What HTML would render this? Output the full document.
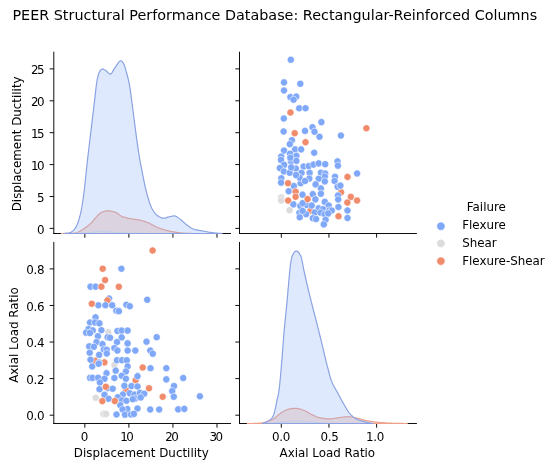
<!DOCTYPE html>
<html><head><meta charset="utf-8"><title>PEER pairplot</title><style>html,body{margin:0;padding:0;background:#fff;width:550px;height:468px;overflow:hidden}svg{display:block}svg text{font-family:"DejaVu Sans","Liberation Sans",sans-serif}</style></head><body>
<svg width="550px" height="468px" viewBox="0 0 462.18 393.28" version="1.1">
 
 <defs>
  <style type="text/css">*{stroke-linejoin: round; stroke-linecap: butt}</style>
 </defs>
 <g id="figure_1">
  <g id="patch_1">
   <path d="M 0 393.28 
L 462.18 393.28 
L 462.18 0 
L 0 0 
z
" style="fill: #ffffff"/>
  </g>
  <g id="axes_1">
   <g id="patch_2">
    <path d="M 45.21 196.22 
L 193.7 196.22 
L 193.7 43.87 
L 45.21 43.87 
L 45.21 196.22 
z
" style="fill: none"/>
   </g>
   <g id="matplotlib.axis_1">
    <g id="xtick_1">
     <g id="line2d_1">
      <defs>
       <path id="m9a016e3dbc" d="M 0 0 
L 0 3.5 
" style="stroke: #000000; stroke-width: 0.8"/>
      </defs>
      <g>
       <use href="#m9a016e3dbc" x="71.29" y="196.22" style="stroke: #000000; stroke-width: 0.8"/>
      </g>
     </g>
    </g>
    <g id="xtick_2">
     <g id="line2d_2">
      <g>
       <use href="#m9a016e3dbc" x="108.3" y="196.22" style="stroke: #000000; stroke-width: 0.8"/>
      </g>
     </g>
    </g>
    <g id="xtick_3">
     <g id="line2d_3">
      <g>
       <use href="#m9a016e3dbc" x="145.32" y="196.22" style="stroke: #000000; stroke-width: 0.8"/>
      </g>
     </g>
    </g>
    <g id="xtick_4">
     <g id="line2d_4">
      <g>
       <use href="#m9a016e3dbc" x="182.34" y="196.22" style="stroke: #000000; stroke-width: 0.8"/>
      </g>
     </g>
    </g>
   </g>
   <g id="matplotlib.axis_2">
    <g id="ytick_1">
     <g id="line2d_5">
      <defs>
       <path id="m037271180b" d="M 0 0 
L -3.5 0 
" style="stroke: #000000; stroke-width: 0.8"/>
      </defs>
      <g>
       <use href="#m037271180b" x="45.21" y="191.93" style="stroke: #000000; stroke-width: 0.8"/>
      </g>
     </g>
     <g id="text_1">
      <text style="font-size: 10px; font-family: 'DejaVu Sans', 'Liberation Sans', sans-serif; text-anchor: end" x="37.54" y="196.32" transform="rotate(-0 37.54 196.32)">0</text>
     </g>
    </g>
    <g id="ytick_2">
     <g id="line2d_6">
      <g>
       <use href="#m037271180b" x="45.21" y="165.13" style="stroke: #000000; stroke-width: 0.8"/>
      </g>
     </g>
     <g id="text_2">
      <text style="font-size: 10px; font-family: 'DejaVu Sans', 'Liberation Sans', sans-serif; text-anchor: end" x="37.54" y="169.51" transform="rotate(-0 37.54 169.51)">5</text>
     </g>
    </g>
    <g id="ytick_3">
     <g id="line2d_7">
      <g>
       <use href="#m037271180b" x="45.21" y="138.32" style="stroke: #000000; stroke-width: 0.8"/>
      </g>
     </g>
     <g id="text_3">
      <text style="font-size: 10px; font-family: 'DejaVu Sans', 'Liberation Sans', sans-serif; text-anchor: end" x="37.54" y="142.71" transform="rotate(-0 37.54 142.71)" textLength="11.46" lengthAdjust="spacing">10</text>
     </g>
    </g>
    <g id="ytick_4">
     <g id="line2d_8">
      <g>
       <use href="#m037271180b" x="45.21" y="111.51" style="stroke: #000000; stroke-width: 0.8"/>
      </g>
     </g>
     <g id="text_4">
      <text style="font-size: 10px; font-family: 'DejaVu Sans', 'Liberation Sans', sans-serif; text-anchor: end" x="37.54" y="115.90" transform="rotate(-0 37.54 115.90)" textLength="11.46" lengthAdjust="spacing">15</text>
     </g>
    </g>
    <g id="ytick_5">
     <g id="line2d_9">
      <g>
       <use href="#m037271180b" x="45.21" y="84.71" style="stroke: #000000; stroke-width: 0.8"/>
      </g>
     </g>
     <g id="text_5">
      <text style="font-size: 10px; font-family: 'DejaVu Sans', 'Liberation Sans', sans-serif; text-anchor: end" x="37.54" y="89.09" transform="rotate(-0 37.54 89.09)" textLength="11.46" lengthAdjust="spacing">20</text>
     </g>
    </g>
    <g id="ytick_6">
     <g id="line2d_10">
      <g>
       <use href="#m037271180b" x="45.21" y="57.9" style="stroke: #000000; stroke-width: 0.8"/>
      </g>
     </g>
     <g id="text_6">
      <text style="font-size: 10px; font-family: 'DejaVu Sans', 'Liberation Sans', sans-serif; text-anchor: end" x="37.54" y="62.29" transform="rotate(-0 37.54 62.29)" textLength="11.46" lengthAdjust="spacing">25</text>
     </g>
    </g>
    <g id="text_7">
     <text style="font-size: 10px; font-family: 'DejaVu Sans', 'Liberation Sans', sans-serif; text-anchor: middle" x="17.64" y="120.88" transform="rotate(-90 17.64 120.88)">Displacement Ductility</text>
    </g>
   </g>
   <g id="patch_3">
    <path d="M 45.21 196.22 
L 45.21 43.87 
" style="fill: none; stroke: #000000; stroke-width: 0.8; stroke-linejoin: miter; stroke-linecap: square"/>
   </g>
   <g id="patch_4">
    <path d="M 45.21 196.22 
L 193.7 196.22 
" style="fill: none; stroke: #000000; stroke-width: 0.8; stroke-linejoin: miter; stroke-linecap: square"/>
   </g>
  </g>
  <g id="axes_2">
   <g id="patch_5">
    <path d="M 201.26 196.22 
L 349.92 196.22 
L 349.92 43.87 
L 201.26 43.87 
L 201.26 196.22 
z
" style="fill: none"/>
   </g>
   <g id="matplotlib.axis_3">
    <g id="xtick_5">
     <g id="line2d_11">
      <g>
       <use href="#m9a016e3dbc" x="236.39" y="196.22" style="stroke: #000000; stroke-width: 0.8"/>
      </g>
     </g>
    </g>
    <g id="xtick_6">
     <g id="line2d_12">
      <g>
       <use href="#m9a016e3dbc" x="276.43" y="196.22" style="stroke: #000000; stroke-width: 0.8"/>
      </g>
     </g>
    </g>
    <g id="xtick_7">
     <g id="line2d_13">
      <g>
       <use href="#m9a016e3dbc" x="316.47" y="196.22" style="stroke: #000000; stroke-width: 0.8"/>
      </g>
     </g>
    </g>
   </g>
   <g id="matplotlib.axis_4">
    <g id="ytick_7">
     <g id="line2d_14">
      <g>
       <use href="#m037271180b" x="201.26" y="191.93" style="stroke: #000000; stroke-width: 0.8"/>
      </g>
     </g>
    </g>
    <g id="ytick_8">
     <g id="line2d_15">
      <g>
       <use href="#m037271180b" x="201.26" y="165.13" style="stroke: #000000; stroke-width: 0.8"/>
      </g>
     </g>
    </g>
    <g id="ytick_9">
     <g id="line2d_16">
      <g>
       <use href="#m037271180b" x="201.26" y="138.32" style="stroke: #000000; stroke-width: 0.8"/>
      </g>
     </g>
    </g>
    <g id="ytick_10">
     <g id="line2d_17">
      <g>
       <use href="#m037271180b" x="201.26" y="111.51" style="stroke: #000000; stroke-width: 0.8"/>
      </g>
     </g>
    </g>
    <g id="ytick_11">
     <g id="line2d_18">
      <g>
       <use href="#m037271180b" x="201.26" y="84.71" style="stroke: #000000; stroke-width: 0.8"/>
      </g>
     </g>
    </g>
    <g id="ytick_12">
     <g id="line2d_19">
      <g>
       <use href="#m037271180b" x="201.26" y="57.9" style="stroke: #000000; stroke-width: 0.8"/>
      </g>
     </g>
    </g>
   </g>
   <g id="PathCollection_1">
    <defs>
     <path id="C0_0_1733bd7d9b" d="M 0 3 
C 0.8 3 1.56 2.68 2.12 2.12 
C 2.68 1.56 3 0.8 3 -0 
C 3 -0.8 2.68 -1.56 2.12 -2.12 
C 1.56 -2.68 0.8 -3 0 -3 
C -0.8 -3 -1.56 -2.68 -2.12 -2.12 
C -2.68 -1.56 -3 -0.8 -3 0 
C -3 0.8 -2.68 1.56 -2.12 2.12 
C -1.56 2.68 -0.8 3 0 3 
z
"/>
    </defs>
    <g clip-path="url(#p71ec16864b)">
     <use href="#C0_0_1733bd7d9b" x="286.64" y="161.6" style="fill: #f08c6c; stroke: #ffffff; stroke-width: 0.48"/>
    </g>
    <g clip-path="url(#p71ec16864b)">
     <use href="#C0_0_1733bd7d9b" x="260.92" y="177.06" style="fill: #f08c6c; stroke: #ffffff; stroke-width: 0.48"/>
    </g>
    <g clip-path="url(#p71ec16864b)">
     <use href="#C0_0_1733bd7d9b" x="244.37" y="50.25" style="fill: #80a8f8; stroke: #ffffff; stroke-width: 0.48"/>
    </g>
    <g clip-path="url(#p71ec16864b)">
     <use href="#C0_0_1733bd7d9b" x="238.66" y="69.24" style="fill: #80a8f8; stroke: #ffffff; stroke-width: 0.48"/>
    </g>
    <g clip-path="url(#p71ec16864b)">
     <use href="#C0_0_1733bd7d9b" x="252.35" y="70.42" style="fill: #80a8f8; stroke: #ffffff; stroke-width: 0.48"/>
    </g>
    <g clip-path="url(#p71ec16864b)">
     <use href="#C0_0_1733bd7d9b" x="238.66" y="76.05" style="fill: #80a8f8; stroke: #ffffff; stroke-width: 0.48"/>
    </g>
    <g clip-path="url(#p71ec16864b)">
     <use href="#C0_0_1733bd7d9b" x="244.03" y="81.6" style="fill: #80a8f8; stroke: #ffffff; stroke-width: 0.48"/>
    </g>
    <g clip-path="url(#p71ec16864b)">
     <use href="#C0_0_1733bd7d9b" x="248.91" y="81.18" style="fill: #80a8f8; stroke: #ffffff; stroke-width: 0.48"/>
    </g>
    <g clip-path="url(#p71ec16864b)">
     <use href="#C0_0_1733bd7d9b" x="246.72" y="83.78" style="fill: #80a8f8; stroke: #ffffff; stroke-width: 0.48"/>
    </g>
    <g clip-path="url(#p71ec16864b)">
     <use href="#C0_0_1733bd7d9b" x="251.43" y="91.01" style="fill: #80a8f8; stroke: #ffffff; stroke-width: 0.48"/>
    </g>
    <g clip-path="url(#p71ec16864b)">
     <use href="#C0_0_1733bd7d9b" x="256.72" y="91.01" style="fill: #80a8f8; stroke: #ffffff; stroke-width: 0.48"/>
    </g>
    <g clip-path="url(#p71ec16864b)">
     <use href="#C0_0_1733bd7d9b" x="238.49" y="99.58" style="fill: #80a8f8; stroke: #ffffff; stroke-width: 0.48"/>
    </g>
    <g clip-path="url(#p71ec16864b)">
     <use href="#C0_0_1733bd7d9b" x="270.08" y="102.61" style="fill: #80a8f8; stroke: #ffffff; stroke-width: 0.48"/>
    </g>
    <g clip-path="url(#p71ec16864b)">
     <use href="#C0_0_1733bd7d9b" x="238.32" y="110.5" style="fill: #80a8f8; stroke: #ffffff; stroke-width: 0.48"/>
    </g>
    <g clip-path="url(#p71ec16864b)">
     <use href="#C0_0_1733bd7d9b" x="256.3" y="110" style="fill: #80a8f8; stroke: #ffffff; stroke-width: 0.48"/>
    </g>
    <g clip-path="url(#p71ec16864b)">
     <use href="#C0_0_1733bd7d9b" x="262.61" y="106.89" style="fill: #80a8f8; stroke: #ffffff; stroke-width: 0.48"/>
    </g>
    <g clip-path="url(#p71ec16864b)">
     <use href="#C0_0_1733bd7d9b" x="264.29" y="110.67" style="fill: #80a8f8; stroke: #ffffff; stroke-width: 0.48"/>
    </g>
    <g clip-path="url(#p71ec16864b)">
     <use href="#C0_0_1733bd7d9b" x="268.49" y="114.96" style="fill: #80a8f8; stroke: #ffffff; stroke-width: 0.48"/>
    </g>
    <g clip-path="url(#p71ec16864b)">
     <use href="#C0_0_1733bd7d9b" x="286.47" y="113.95" style="fill: #80a8f8; stroke: #ffffff; stroke-width: 0.48"/>
    </g>
    <g clip-path="url(#p71ec16864b)">
     <use href="#C0_0_1733bd7d9b" x="245.29" y="117.82" style="fill: #80a8f8; stroke: #ffffff; stroke-width: 0.48"/>
    </g>
    <g clip-path="url(#p71ec16864b)">
     <use href="#C0_0_1733bd7d9b" x="243.53" y="121.18" style="fill: #80a8f8; stroke: #ffffff; stroke-width: 0.48"/>
    </g>
    <g clip-path="url(#p71ec16864b)">
     <use href="#C0_0_1733bd7d9b" x="238.66" y="126.55" style="fill: #80a8f8; stroke: #ffffff; stroke-width: 0.48"/>
    </g>
    <g clip-path="url(#p71ec16864b)">
     <use href="#C0_0_1733bd7d9b" x="247.98" y="125.55" style="fill: #80a8f8; stroke: #ffffff; stroke-width: 0.48"/>
    </g>
    <g clip-path="url(#p71ec16864b)">
     <use href="#C0_0_1733bd7d9b" x="253.03" y="125.55" style="fill: #80a8f8; stroke: #ffffff; stroke-width: 0.48"/>
    </g>
    <g clip-path="url(#p71ec16864b)">
     <use href="#C0_0_1733bd7d9b" x="243.7" y="129.16" style="fill: #80a8f8; stroke: #ffffff; stroke-width: 0.48"/>
    </g>
    <g clip-path="url(#p71ec16864b)">
     <use href="#C0_0_1733bd7d9b" x="249.08" y="130.92" style="fill: #80a8f8; stroke: #ffffff; stroke-width: 0.48"/>
    </g>
    <g clip-path="url(#p71ec16864b)">
     <use href="#C0_0_1733bd7d9b" x="264.03" y="128.4" style="fill: #80a8f8; stroke: #ffffff; stroke-width: 0.48"/>
    </g>
    <g clip-path="url(#p71ec16864b)">
     <use href="#C0_0_1733bd7d9b" x="236.3" y="131.6" style="fill: #80a8f8; stroke: #ffffff; stroke-width: 0.48"/>
    </g>
    <g clip-path="url(#p71ec16864b)">
     <use href="#C0_0_1733bd7d9b" x="236.13" y="134.45" style="fill: #80a8f8; stroke: #ffffff; stroke-width: 0.48"/>
    </g>
    <g clip-path="url(#p71ec16864b)">
     <use href="#C0_0_1733bd7d9b" x="244.54" y="135.71" style="fill: #80a8f8; stroke: #ffffff; stroke-width: 0.48"/>
    </g>
    <g clip-path="url(#p71ec16864b)">
     <use href="#C0_0_1733bd7d9b" x="249.08" y="135.21" style="fill: #80a8f8; stroke: #ffffff; stroke-width: 0.48"/>
    </g>
    <g clip-path="url(#p71ec16864b)">
     <use href="#C0_0_1733bd7d9b" x="238.74" y="138.57" style="fill: #80a8f8; stroke: #ffffff; stroke-width: 0.48"/>
    </g>
    <g clip-path="url(#p71ec16864b)">
     <use href="#C0_0_1733bd7d9b" x="255.13" y="139.92" style="fill: #80a8f8; stroke: #ffffff; stroke-width: 0.48"/>
    </g>
    <g clip-path="url(#p71ec16864b)">
     <use href="#C0_0_1733bd7d9b" x="259.5" y="139.58" style="fill: #80a8f8; stroke: #ffffff; stroke-width: 0.48"/>
    </g>
    <g clip-path="url(#p71ec16864b)">
     <use href="#C0_0_1733bd7d9b" x="263.45" y="138.32" style="fill: #80a8f8; stroke: #ffffff; stroke-width: 0.48"/>
    </g>
    <g clip-path="url(#p71ec16864b)">
     <use href="#C0_0_1733bd7d9b" x="267.82" y="137.31" style="fill: #80a8f8; stroke: #ffffff; stroke-width: 0.48"/>
    </g>
    <g clip-path="url(#p71ec16864b)">
     <use href="#C0_0_1733bd7d9b" x="273.28" y="137.98" style="fill: #80a8f8; stroke: #ffffff; stroke-width: 0.48"/>
    </g>
    <g clip-path="url(#p71ec16864b)">
     <use href="#C0_0_1733bd7d9b" x="283.61" y="135.63" style="fill: #80a8f8; stroke: #ffffff; stroke-width: 0.48"/>
    </g>
    <g clip-path="url(#p71ec16864b)">
     <use href="#C0_0_1733bd7d9b" x="283.95" y="139.24" style="fill: #80a8f8; stroke: #ffffff; stroke-width: 0.48"/>
    </g>
    <g clip-path="url(#p71ec16864b)">
     <use href="#C0_0_1733bd7d9b" x="235.13" y="141.26" style="fill: #80a8f8; stroke: #ffffff; stroke-width: 0.48"/>
    </g>
    <g clip-path="url(#p71ec16864b)">
     <use href="#C0_0_1733bd7d9b" x="248.66" y="141.68" style="fill: #80a8f8; stroke: #ffffff; stroke-width: 0.48"/>
    </g>
    <g clip-path="url(#p71ec16864b)">
     <use href="#C0_0_1733bd7d9b" x="238.57" y="144.12" style="fill: #80a8f8; stroke: #ffffff; stroke-width: 0.48"/>
    </g>
    <g clip-path="url(#p71ec16864b)">
     <use href="#C0_0_1733bd7d9b" x="243.45" y="145.21" style="fill: #80a8f8; stroke: #ffffff; stroke-width: 0.48"/>
    </g>
    <g clip-path="url(#p71ec16864b)">
     <use href="#C0_0_1733bd7d9b" x="253.36" y="145.29" style="fill: #80a8f8; stroke: #ffffff; stroke-width: 0.48"/>
    </g>
    <g clip-path="url(#p71ec16864b)">
     <use href="#C0_0_1733bd7d9b" x="260.17" y="145.29" style="fill: #80a8f8; stroke: #ffffff; stroke-width: 0.48"/>
    </g>
    <g clip-path="url(#p71ec16864b)">
     <use href="#C0_0_1733bd7d9b" x="269.66" y="145.21" style="fill: #80a8f8; stroke: #ffffff; stroke-width: 0.48"/>
    </g>
    <g clip-path="url(#p71ec16864b)">
     <use href="#C0_0_1733bd7d9b" x="273.28" y="145.8" style="fill: #80a8f8; stroke: #ffffff; stroke-width: 0.48"/>
    </g>
    <g clip-path="url(#p71ec16864b)">
     <use href="#C0_0_1733bd7d9b" x="272.94" y="148.49" style="fill: #80a8f8; stroke: #ffffff; stroke-width: 0.48"/>
    </g>
    <g clip-path="url(#p71ec16864b)">
     <use href="#C0_0_1733bd7d9b" x="281.51" y="148.57" style="fill: #80a8f8; stroke: #ffffff; stroke-width: 0.48"/>
    </g>
    <g clip-path="url(#p71ec16864b)">
     <use href="#C0_0_1733bd7d9b" x="267.82" y="150.25" style="fill: #80a8f8; stroke: #ffffff; stroke-width: 0.48"/>
    </g>
    <g clip-path="url(#p71ec16864b)">
     <use href="#C0_0_1733bd7d9b" x="259.92" y="150.08" style="fill: #80a8f8; stroke: #ffffff; stroke-width: 0.48"/>
    </g>
    <g clip-path="url(#p71ec16864b)">
     <use href="#C0_0_1733bd7d9b" x="300.08" y="145.8" style="fill: #80a8f8; stroke: #ffffff; stroke-width: 0.48"/>
    </g>
    <g clip-path="url(#p71ec16864b)">
     <use href="#C0_0_1733bd7d9b" x="236.39" y="149.83" style="fill: #80a8f8; stroke: #ffffff; stroke-width: 0.48"/>
    </g>
    <g clip-path="url(#p71ec16864b)">
     <use href="#C0_0_1733bd7d9b" x="236.22" y="153.45" style="fill: #80a8f8; stroke: #ffffff; stroke-width: 0.48"/>
    </g>
    <g clip-path="url(#p71ec16864b)">
     <use href="#C0_0_1733bd7d9b" x="246.97" y="156.39" style="fill: #80a8f8; stroke: #ffffff; stroke-width: 0.48"/>
    </g>
    <g clip-path="url(#p71ec16864b)">
     <use href="#C0_0_1733bd7d9b" x="252.61" y="154.03" style="fill: #80a8f8; stroke: #ffffff; stroke-width: 0.48"/>
    </g>
    <g clip-path="url(#p71ec16864b)">
     <use href="#C0_0_1733bd7d9b" x="251.68" y="149.24" style="fill: #80a8f8; stroke: #ffffff; stroke-width: 0.48"/>
    </g>
    <g clip-path="url(#p71ec16864b)">
     <use href="#C0_0_1733bd7d9b" x="256.3" y="152.1" style="fill: #80a8f8; stroke: #ffffff; stroke-width: 0.48"/>
    </g>
    <g clip-path="url(#p71ec16864b)">
     <use href="#C0_0_1733bd7d9b" x="272.94" y="152.44" style="fill: #80a8f8; stroke: #ffffff; stroke-width: 0.48"/>
    </g>
    <g clip-path="url(#p71ec16864b)">
     <use href="#C0_0_1733bd7d9b" x="281.18" y="152.1" style="fill: #80a8f8; stroke: #ffffff; stroke-width: 0.48"/>
    </g>
    <g clip-path="url(#p71ec16864b)">
     <use href="#C0_0_1733bd7d9b" x="265.21" y="154.96" style="fill: #80a8f8; stroke: #ffffff; stroke-width: 0.48"/>
    </g>
    <g clip-path="url(#p71ec16864b)">
     <use href="#C0_0_1733bd7d9b" x="269.66" y="158.32" style="fill: #80a8f8; stroke: #ffffff; stroke-width: 0.48"/>
    </g>
    <g clip-path="url(#p71ec16864b)">
     <use href="#C0_0_1733bd7d9b" x="283.7" y="156.89" style="fill: #80a8f8; stroke: #ffffff; stroke-width: 0.48"/>
    </g>
    <g clip-path="url(#p71ec16864b)">
     <use href="#C0_0_1733bd7d9b" x="286.05" y="155.97" style="fill: #80a8f8; stroke: #ffffff; stroke-width: 0.48"/>
    </g>
    <g clip-path="url(#p71ec16864b)">
     <use href="#C0_0_1733bd7d9b" x="242.61" y="160.67" style="fill: #80a8f8; stroke: #ffffff; stroke-width: 0.48"/>
    </g>
    <g clip-path="url(#p71ec16864b)">
     <use href="#C0_0_1733bd7d9b" x="254.2" y="163.61" style="fill: #80a8f8; stroke: #ffffff; stroke-width: 0.48"/>
    </g>
    <g clip-path="url(#p71ec16864b)">
     <use href="#C0_0_1733bd7d9b" x="262.86" y="163.19" style="fill: #80a8f8; stroke: #ffffff; stroke-width: 0.48"/>
    </g>
    <g clip-path="url(#p71ec16864b)">
     <use href="#C0_0_1733bd7d9b" x="269.66" y="162.86" style="fill: #80a8f8; stroke: #ffffff; stroke-width: 0.48"/>
    </g>
    <g clip-path="url(#p71ec16864b)">
     <use href="#C0_0_1733bd7d9b" x="284.03" y="164.29" style="fill: #80a8f8; stroke: #ffffff; stroke-width: 0.48"/>
    </g>
    <g clip-path="url(#p71ec16864b)">
     <use href="#C0_0_1733bd7d9b" x="284.2" y="167.65" style="fill: #80a8f8; stroke: #ffffff; stroke-width: 0.48"/>
    </g>
    <g clip-path="url(#p71ec16864b)">
     <use href="#C0_0_1733bd7d9b" x="265.04" y="167.56" style="fill: #80a8f8; stroke: #ffffff; stroke-width: 0.48"/>
    </g>
    <g clip-path="url(#p71ec16864b)">
     <use href="#C0_0_1733bd7d9b" x="284.37" y="173.95" style="fill: #80a8f8; stroke: #ffffff; stroke-width: 0.48"/>
    </g>
    <g clip-path="url(#p71ec16864b)">
     <use href="#C0_0_1733bd7d9b" x="246.55" y="171.76" style="fill: #80a8f8; stroke: #ffffff; stroke-width: 0.48"/>
    </g>
    <g clip-path="url(#p71ec16864b)">
     <use href="#C0_0_1733bd7d9b" x="252.35" y="173.11" style="fill: #80a8f8; stroke: #ffffff; stroke-width: 0.48"/>
    </g>
    <g clip-path="url(#p71ec16864b)">
     <use href="#C0_0_1733bd7d9b" x="257.82" y="172.27" style="fill: #80a8f8; stroke: #ffffff; stroke-width: 0.48"/>
    </g>
    <g clip-path="url(#p71ec16864b)">
     <use href="#C0_0_1733bd7d9b" x="261.93" y="172.69" style="fill: #80a8f8; stroke: #ffffff; stroke-width: 0.48"/>
    </g>
    <g clip-path="url(#p71ec16864b)">
     <use href="#C0_0_1733bd7d9b" x="254.29" y="170.76" style="fill: #80a8f8; stroke: #ffffff; stroke-width: 0.48"/>
    </g>
    <g clip-path="url(#p71ec16864b)">
     <use href="#C0_0_1733bd7d9b" x="272.94" y="169.66" style="fill: #80a8f8; stroke: #ffffff; stroke-width: 0.48"/>
    </g>
    <g clip-path="url(#p71ec16864b)">
     <use href="#C0_0_1733bd7d9b" x="276.22" y="172.69" style="fill: #80a8f8; stroke: #ffffff; stroke-width: 0.48"/>
    </g>
    <g clip-path="url(#p71ec16864b)">
     <use href="#C0_0_1733bd7d9b" x="267.82" y="175.04" style="fill: #80a8f8; stroke: #ffffff; stroke-width: 0.48"/>
    </g>
    <g clip-path="url(#p71ec16864b)">
     <use href="#C0_0_1733bd7d9b" x="271.51" y="175.8" style="fill: #80a8f8; stroke: #ffffff; stroke-width: 0.48"/>
    </g>
    <g clip-path="url(#p71ec16864b)">
     <use href="#C0_0_1733bd7d9b" x="276.64" y="176.89" style="fill: #80a8f8; stroke: #ffffff; stroke-width: 0.48"/>
    </g>
    <g clip-path="url(#p71ec16864b)">
     <use href="#C0_0_1733bd7d9b" x="278.82" y="176.89" style="fill: #80a8f8; stroke: #ffffff; stroke-width: 0.48"/>
    </g>
    <g clip-path="url(#p71ec16864b)">
     <use href="#C0_0_1733bd7d9b" x="292.02" y="176.89" style="fill: #80a8f8; stroke: #ffffff; stroke-width: 0.48"/>
    </g>
    <g clip-path="url(#p71ec16864b)">
     <use href="#C0_0_1733bd7d9b" x="251.6" y="178.82" style="fill: #80a8f8; stroke: #ffffff; stroke-width: 0.48"/>
    </g>
    <g clip-path="url(#p71ec16864b)">
     <use href="#C0_0_1733bd7d9b" x="257.23" y="180" style="fill: #80a8f8; stroke: #ffffff; stroke-width: 0.48"/>
    </g>
    <g clip-path="url(#p71ec16864b)">
     <use href="#C0_0_1733bd7d9b" x="254.29" y="177.23" style="fill: #80a8f8; stroke: #ffffff; stroke-width: 0.48"/>
    </g>
    <g clip-path="url(#p71ec16864b)">
     <use href="#C0_0_1733bd7d9b" x="264.54" y="178.66" style="fill: #80a8f8; stroke: #ffffff; stroke-width: 0.48"/>
    </g>
    <g clip-path="url(#p71ec16864b)">
     <use href="#C0_0_1733bd7d9b" x="269.33" y="178.66" style="fill: #80a8f8; stroke: #ffffff; stroke-width: 0.48"/>
    </g>
    <g clip-path="url(#p71ec16864b)">
     <use href="#C0_0_1733bd7d9b" x="272.86" y="180.08" style="fill: #80a8f8; stroke: #ffffff; stroke-width: 0.48"/>
    </g>
    <g clip-path="url(#p71ec16864b)">
     <use href="#C0_0_1733bd7d9b" x="275.8" y="179.41" style="fill: #80a8f8; stroke: #ffffff; stroke-width: 0.48"/>
    </g>
    <g clip-path="url(#p71ec16864b)">
     <use href="#C0_0_1733bd7d9b" x="251.85" y="182.61" style="fill: #80a8f8; stroke: #ffffff; stroke-width: 0.48"/>
    </g>
    <g clip-path="url(#p71ec16864b)">
     <use href="#C0_0_1733bd7d9b" x="262.86" y="183.36" style="fill: #80a8f8; stroke: #ffffff; stroke-width: 0.48"/>
    </g>
    <g clip-path="url(#p71ec16864b)">
     <use href="#C0_0_1733bd7d9b" x="265.63" y="184.12" style="fill: #80a8f8; stroke: #ffffff; stroke-width: 0.48"/>
    </g>
    <g clip-path="url(#p71ec16864b)">
     <use href="#C0_0_1733bd7d9b" x="273.61" y="184.71" style="fill: #80a8f8; stroke: #ffffff; stroke-width: 0.48"/>
    </g>
    <g clip-path="url(#p71ec16864b)">
     <use href="#C0_0_1733bd7d9b" x="292.02" y="183.19" style="fill: #80a8f8; stroke: #ffffff; stroke-width: 0.48"/>
    </g>
    <g clip-path="url(#p71ec16864b)">
     <use href="#C0_0_1733bd7d9b" x="272.1" y="188.57" style="fill: #80a8f8; stroke: #ffffff; stroke-width: 0.48"/>
    </g>
    <g clip-path="url(#p71ec16864b)">
     <use href="#C0_0_1733bd7d9b" x="244.71" y="140.67" style="fill: #80a8f8; stroke: #ffffff; stroke-width: 0.48"/>
    </g>
    <g clip-path="url(#p71ec16864b)">
     <use href="#C0_0_1733bd7d9b" x="243.95" y="132.61" style="fill: #80a8f8; stroke: #ffffff; stroke-width: 0.48"/>
    </g>
    <g clip-path="url(#p71ec16864b)">
     <use href="#C0_0_1733bd7d9b" x="248.74" y="147.14" style="fill: #80a8f8; stroke: #ffffff; stroke-width: 0.48"/>
    </g>
    <g clip-path="url(#p71ec16864b)">
     <use href="#C0_0_1733bd7d9b" x="236.3" y="165.88" style="fill: #dddcdc; stroke: #ffffff; stroke-width: 0.48"/>
    </g>
    <g clip-path="url(#p71ec16864b)">
     <use href="#C0_0_1733bd7d9b" x="236.3" y="168.49" style="fill: #dddcdc; stroke: #ffffff; stroke-width: 0.48"/>
    </g>
    <g clip-path="url(#p71ec16864b)">
     <use href="#C0_0_1733bd7d9b" x="243.28" y="176.64" style="fill: #dddcdc; stroke: #ffffff; stroke-width: 0.48"/>
    </g>
    <g clip-path="url(#p71ec16864b)">
     <use href="#C0_0_1733bd7d9b" x="244.08" y="94.54" style="fill: #f08c6c; stroke: #ffffff; stroke-width: 0.48"/>
    </g>
    <g clip-path="url(#p71ec16864b)">
     <use href="#C0_0_1733bd7d9b" x="247.65" y="111.93" style="fill: #f08c6c; stroke: #ffffff; stroke-width: 0.48"/>
    </g>
    <g clip-path="url(#p71ec16864b)">
     <use href="#C0_0_1733bd7d9b" x="256.72" y="119.5" style="fill: #f08c6c; stroke: #ffffff; stroke-width: 0.48"/>
    </g>
    <g clip-path="url(#p71ec16864b)">
     <use href="#C0_0_1733bd7d9b" x="307.9" y="107.82" style="fill: #f08c6c; stroke: #ffffff; stroke-width: 0.48"/>
    </g>
    <g clip-path="url(#p71ec16864b)">
     <use href="#C0_0_1733bd7d9b" x="242.02" y="153.95" style="fill: #f08c6c; stroke: #ffffff; stroke-width: 0.48"/>
    </g>
    <g clip-path="url(#p71ec16864b)">
     <use href="#C0_0_1733bd7d9b" x="248.4" y="161.09" style="fill: #f08c6c; stroke: #ffffff; stroke-width: 0.48"/>
    </g>
    <g clip-path="url(#p71ec16864b)">
     <use href="#C0_0_1733bd7d9b" x="248.4" y="165.38" style="fill: #f08c6c; stroke: #ffffff; stroke-width: 0.48"/>
    </g>
    <g clip-path="url(#p71ec16864b)">
     <use href="#C0_0_1733bd7d9b" x="258.49" y="167.31" style="fill: #f08c6c; stroke: #ffffff; stroke-width: 0.48"/>
    </g>
    <g clip-path="url(#p71ec16864b)">
     <use href="#C0_0_1733bd7d9b" x="242.1" y="168.57" style="fill: #f08c6c; stroke: #ffffff; stroke-width: 0.48"/>
    </g>
    <g clip-path="url(#p71ec16864b)">
     <use href="#C0_0_1733bd7d9b" x="292.02" y="148.66" style="fill: #f08c6c; stroke: #ffffff; stroke-width: 0.48"/>
    </g>
    <g clip-path="url(#p71ec16864b)">
     <use href="#C0_0_1733bd7d9b" x="294.79" y="165.46" style="fill: #f08c6c; stroke: #ffffff; stroke-width: 0.48"/>
    </g>
    <g clip-path="url(#p71ec16864b)">
     <use href="#C0_0_1733bd7d9b" x="300.08" y="168.49" style="fill: #f08c6c; stroke: #ffffff; stroke-width: 0.48"/>
    </g>
    <g clip-path="url(#p71ec16864b)">
     <use href="#C0_0_1733bd7d9b" x="291.93" y="170.25" style="fill: #f08c6c; stroke: #ffffff; stroke-width: 0.48"/>
    </g>
    <g clip-path="url(#p71ec16864b)">
     <use href="#C0_0_1733bd7d9b" x="284.45" y="181.76" style="fill: #f08c6c; stroke: #ffffff; stroke-width: 0.48"/>
    </g>
   </g>
   <g id="patch_6">
    <path d="M 201.26 196.22 
L 201.26 43.87 
" style="fill: none; stroke: #000000; stroke-width: 0.8; stroke-linejoin: miter; stroke-linecap: square"/>
   </g>
   <g id="patch_7">
    <path d="M 201.26 196.22 
L 349.92 196.22 
" style="fill: none; stroke: #000000; stroke-width: 0.8; stroke-linejoin: miter; stroke-linecap: square"/>
   </g>
  </g>
  <g id="axes_3">
   <g id="patch_8">
    <path d="M 45.21 355.88 
L 193.7 355.88 
L 193.7 203.7 
L 45.21 203.7 
L 45.21 355.88 
z
" style="fill: none"/>
   </g>
   <g id="matplotlib.axis_5">
    <g id="xtick_8">
     <g id="line2d_20">
      <g>
       <use href="#m9a016e3dbc" x="71.29" y="355.88" style="stroke: #000000; stroke-width: 0.8"/>
      </g>
     </g>
     <g id="text_8">
      <text style="font-size: 10px; font-family: 'DejaVu Sans', 'Liberation Sans', sans-serif; text-anchor: middle" x="70.95" y="370.23" transform="rotate(-0 70.95 370.23)">0</text>
     </g>
    </g>
    <g id="xtick_9">
     <g id="line2d_21">
      <g>
       <use href="#m9a016e3dbc" x="108.3" y="355.88" style="stroke: #000000; stroke-width: 0.8"/>
      </g>
     </g>
     <g id="text_9">
      <text style="font-size: 10px; font-family: 'DejaVu Sans', 'Liberation Sans', sans-serif; text-anchor: middle" x="106.79" y="370.23" transform="rotate(-0 106.79 370.23)" textLength="11.46" lengthAdjust="spacing">10</text>
     </g>
    </g>
    <g id="xtick_10">
     <g id="line2d_22">
      <g>
       <use href="#m9a016e3dbc" x="145.32" y="355.88" style="stroke: #000000; stroke-width: 0.8"/>
      </g>
     </g>
     <g id="text_10">
      <text style="font-size: 10px; font-family: 'DejaVu Sans', 'Liberation Sans', sans-serif; text-anchor: middle" x="144.56" y="370.23" transform="rotate(-0 144.56 370.23)" textLength="11.46" lengthAdjust="spacing">20</text>
     </g>
    </g>
    <g id="xtick_11">
     <g id="line2d_23">
      <g>
       <use href="#m9a016e3dbc" x="182.34" y="355.88" style="stroke: #000000; stroke-width: 0.8"/>
      </g>
     </g>
     <g id="text_11">
      <text style="font-size: 10px; font-family: 'DejaVu Sans', 'Liberation Sans', sans-serif; text-anchor: middle" x="181.75" y="370.23" transform="rotate(-0 181.75 370.23)" textLength="11.46" lengthAdjust="spacing">30</text>
     </g>
    </g>
    <g id="text_12">
     <text style="font-size: 10px; font-family: 'DejaVu Sans', 'Liberation Sans', sans-serif; text-anchor: middle" x="118.70" y="384.41" transform="rotate(-0 118.70 384.41)">Displacement Ductility</text>
    </g>
   </g>
   <g id="matplotlib.axis_6">
    <g id="ytick_13">
     <g id="line2d_24">
      <g>
       <use href="#m037271180b" x="45.21" y="348.91" style="stroke: #000000; stroke-width: 0.8"/>
      </g>
     </g>
     <g id="text_13">
      <text style="font-size: 10px; font-family: 'DejaVu Sans', 'Liberation Sans', sans-serif; text-anchor: end" x="37.54" y="353.30" transform="rotate(-0 37.54 353.30)" textLength="15.40" lengthAdjust="spacing">0.0</text>
     </g>
    </g>
    <g id="ytick_14">
     <g id="line2d_25">
      <g>
       <use href="#m037271180b" x="45.21" y="318.17" style="stroke: #000000; stroke-width: 0.8"/>
      </g>
     </g>
     <g id="text_14">
      <text style="font-size: 10px; font-family: 'DejaVu Sans', 'Liberation Sans', sans-serif; text-anchor: end" x="37.54" y="322.56" transform="rotate(-0 37.54 322.56)" textLength="15.40" lengthAdjust="spacing">0.2</text>
     </g>
    </g>
    <g id="ytick_15">
     <g id="line2d_26">
      <g>
       <use href="#m037271180b" x="45.21" y="287.43" style="stroke: #000000; stroke-width: 0.8"/>
      </g>
     </g>
     <g id="text_15">
      <text style="font-size: 10px; font-family: 'DejaVu Sans', 'Liberation Sans', sans-serif; text-anchor: end" x="37.54" y="291.82" transform="rotate(-0 37.54 291.82)" textLength="15.40" lengthAdjust="spacing">0.4</text>
     </g>
    </g>
    <g id="ytick_16">
     <g id="line2d_27">
      <g>
       <use href="#m037271180b" x="45.21" y="256.69" style="stroke: #000000; stroke-width: 0.8"/>
      </g>
     </g>
     <g id="text_16">
      <text style="font-size: 10px; font-family: 'DejaVu Sans', 'Liberation Sans', sans-serif; text-anchor: end" x="37.54" y="261.08" transform="rotate(-0 37.54 261.08)" textLength="15.40" lengthAdjust="spacing">0.6</text>
     </g>
    </g>
    <g id="ytick_17">
     <g id="line2d_28">
      <g>
       <use href="#m037271180b" x="45.21" y="225.95" style="stroke: #000000; stroke-width: 0.8"/>
      </g>
     </g>
     <g id="text_17">
      <text style="font-size: 10px; font-family: 'DejaVu Sans', 'Liberation Sans', sans-serif; text-anchor: end" x="37.54" y="230.34" transform="rotate(-0 37.54 230.34)" textLength="15.40" lengthAdjust="spacing">0.8</text>
     </g>
    </g>
    <g id="text_18">
     <text style="font-size: 10px; font-family: 'DejaVu Sans', 'Liberation Sans', sans-serif; text-anchor: middle" x="15.05" y="281.55" transform="rotate(-90 15.05 281.55)">Axial Load Ratio</text>
    </g>
   </g>
   <g id="PathCollection_2">
    <defs>
     <path id="C1_0_c9fdfc9d97" d="M 0 3 
C 0.8 3 1.56 2.68 2.12 2.12 
C 2.68 1.56 3 0.8 3 -0 
C 3 -0.8 2.68 -1.56 2.12 -2.12 
C 1.56 -2.68 0.8 -3 0 -3 
C -0.8 -3 -1.56 -2.68 -2.12 -2.12 
C -2.68 -1.56 -3 -0.8 -3 0 
C -3 0.8 -2.68 1.56 -2.12 2.12 
C -1.56 2.68 -0.8 3 0 3 
z
"/>
    </defs>
    <g clip-path="url(#p73319958ad)">
     <use href="#C1_0_c9fdfc9d97" x="80" y="303.11" style="fill: #f08c6c; stroke: #ffffff; stroke-width: 0.48"/>
    </g>
    <g clip-path="url(#p73319958ad)">
     <use href="#C1_0_c9fdfc9d97" x="87.73" y="304.54" style="fill: #f08c6c; stroke: #ffffff; stroke-width: 0.48"/>
    </g>
    <g clip-path="url(#p73319958ad)">
     <use href="#C1_0_c9fdfc9d97" x="113.95" y="319.58" style="fill: #f08c6c; stroke: #ffffff; stroke-width: 0.48"/>
    </g>
    <g clip-path="url(#p73319958ad)">
     <use href="#C1_0_c9fdfc9d97" x="105.8" y="327.73" style="fill: #f08c6c; stroke: #ffffff; stroke-width: 0.48"/>
    </g>
    <g clip-path="url(#p73319958ad)">
     <use href="#C1_0_c9fdfc9d97" x="91.01" y="279.16" style="fill: #dddcdc; stroke: #ffffff; stroke-width: 0.48"/>
    </g>
    <g clip-path="url(#p73319958ad)">
     <use href="#C1_0_c9fdfc9d97" x="96.13" y="306.81" style="fill: #dddcdc; stroke: #ffffff; stroke-width: 0.48"/>
    </g>
    <g clip-path="url(#p73319958ad)">
     <use href="#C1_0_c9fdfc9d97" x="91.68" y="250.84" style="fill: #80a8f8; stroke: #ffffff; stroke-width: 0.48"/>
    </g>
    <g clip-path="url(#p73319958ad)">
     <use href="#C1_0_c9fdfc9d97" x="90.25" y="252.44" style="fill: #f08c6c; stroke: #ffffff; stroke-width: 0.48"/>
    </g>
    <g clip-path="url(#p73319958ad)">
     <use href="#C1_0_c9fdfc9d97" x="102.02" y="225.8" style="fill: #80a8f8; stroke: #ffffff; stroke-width: 0.48"/>
    </g>
    <g clip-path="url(#p73319958ad)">
     <use href="#C1_0_c9fdfc9d97" x="76.05" y="240.92" style="fill: #80a8f8; stroke: #ffffff; stroke-width: 0.48"/>
    </g>
    <g clip-path="url(#p73319958ad)">
     <use href="#C1_0_c9fdfc9d97" x="80.34" y="240.92" style="fill: #80a8f8; stroke: #ffffff; stroke-width: 0.48"/>
    </g>
    <g clip-path="url(#p73319958ad)">
     <use href="#C1_0_c9fdfc9d97" x="123.7" y="251.93" style="fill: #80a8f8; stroke: #ffffff; stroke-width: 0.48"/>
    </g>
    <g clip-path="url(#p73319958ad)">
     <use href="#C1_0_c9fdfc9d97" x="82.69" y="256.55" style="fill: #80a8f8; stroke: #ffffff; stroke-width: 0.48"/>
    </g>
    <g clip-path="url(#p73319958ad)">
     <use href="#C1_0_c9fdfc9d97" x="88.57" y="256.55" style="fill: #80a8f8; stroke: #ffffff; stroke-width: 0.48"/>
    </g>
    <g clip-path="url(#p73319958ad)">
     <use href="#C1_0_c9fdfc9d97" x="94.29" y="256.55" style="fill: #80a8f8; stroke: #ffffff; stroke-width: 0.48"/>
    </g>
    <g clip-path="url(#p73319958ad)">
     <use href="#C1_0_c9fdfc9d97" x="97.73" y="261.09" style="fill: #80a8f8; stroke: #ffffff; stroke-width: 0.48"/>
    </g>
    <g clip-path="url(#p73319958ad)">
     <use href="#C1_0_c9fdfc9d97" x="99.92" y="261.51" style="fill: #80a8f8; stroke: #ffffff; stroke-width: 0.48"/>
    </g>
    <g clip-path="url(#p73319958ad)">
     <use href="#C1_0_c9fdfc9d97" x="106.22" y="256.13" style="fill: #80a8f8; stroke: #ffffff; stroke-width: 0.48"/>
    </g>
    <g clip-path="url(#p73319958ad)">
     <use href="#C1_0_c9fdfc9d97" x="109.08" y="257.31" style="fill: #80a8f8; stroke: #ffffff; stroke-width: 0.48"/>
    </g>
    <g clip-path="url(#p73319958ad)">
     <use href="#C1_0_c9fdfc9d97" x="80.25" y="266.72" style="fill: #80a8f8; stroke: #ffffff; stroke-width: 0.48"/>
    </g>
    <g clip-path="url(#p73319958ad)">
     <use href="#C1_0_c9fdfc9d97" x="75.63" y="271.01" style="fill: #80a8f8; stroke: #ffffff; stroke-width: 0.48"/>
    </g>
    <g clip-path="url(#p73319958ad)">
     <use href="#C1_0_c9fdfc9d97" x="79.83" y="271.01" style="fill: #80a8f8; stroke: #ffffff; stroke-width: 0.48"/>
    </g>
    <g clip-path="url(#p73319958ad)">
     <use href="#C1_0_c9fdfc9d97" x="83.53" y="271.76" style="fill: #80a8f8; stroke: #ffffff; stroke-width: 0.48"/>
    </g>
    <g clip-path="url(#p73319958ad)">
     <use href="#C1_0_c9fdfc9d97" x="74.37" y="276.47" style="fill: #80a8f8; stroke: #ffffff; stroke-width: 0.48"/>
    </g>
    <g clip-path="url(#p73319958ad)">
     <use href="#C1_0_c9fdfc9d97" x="77.98" y="277.65" style="fill: #80a8f8; stroke: #ffffff; stroke-width: 0.48"/>
    </g>
    <g clip-path="url(#p73319958ad)">
     <use href="#C1_0_c9fdfc9d97" x="72.35" y="279.58" style="fill: #80a8f8; stroke: #ffffff; stroke-width: 0.48"/>
    </g>
    <g clip-path="url(#p73319958ad)">
     <use href="#C1_0_c9fdfc9d97" x="75.63" y="279.83" style="fill: #80a8f8; stroke: #ffffff; stroke-width: 0.48"/>
    </g>
    <g clip-path="url(#p73319958ad)">
     <use href="#C1_0_c9fdfc9d97" x="85.21" y="277.48" style="fill: #80a8f8; stroke: #ffffff; stroke-width: 0.48"/>
    </g>
    <g clip-path="url(#p73319958ad)">
     <use href="#C1_0_c9fdfc9d97" x="82.27" y="282.52" style="fill: #80a8f8; stroke: #ffffff; stroke-width: 0.48"/>
    </g>
    <g clip-path="url(#p73319958ad)">
     <use href="#C1_0_c9fdfc9d97" x="90.42" y="283.45" style="fill: #80a8f8; stroke: #ffffff; stroke-width: 0.48"/>
    </g>
    <g clip-path="url(#p73319958ad)">
     <use href="#C1_0_c9fdfc9d97" x="92.52" y="283.87" style="fill: #80a8f8; stroke: #ffffff; stroke-width: 0.48"/>
    </g>
    <g clip-path="url(#p73319958ad)">
     <use href="#C1_0_c9fdfc9d97" x="98.66" y="278.15" style="fill: #80a8f8; stroke: #ffffff; stroke-width: 0.48"/>
    </g>
    <g clip-path="url(#p73319958ad)">
     <use href="#C1_0_c9fdfc9d97" x="102.27" y="277.82" style="fill: #80a8f8; stroke: #ffffff; stroke-width: 0.48"/>
    </g>
    <g clip-path="url(#p73319958ad)">
     <use href="#C1_0_c9fdfc9d97" x="107.23" y="277.82" style="fill: #80a8f8; stroke: #ffffff; stroke-width: 0.48"/>
    </g>
    <g clip-path="url(#p73319958ad)">
     <use href="#C1_0_c9fdfc9d97" x="102.27" y="283.53" style="fill: #80a8f8; stroke: #ffffff; stroke-width: 0.48"/>
    </g>
    <g clip-path="url(#p73319958ad)">
     <use href="#C1_0_c9fdfc9d97" x="81.09" y="287.48" style="fill: #80a8f8; stroke: #ffffff; stroke-width: 0.48"/>
    </g>
    <g clip-path="url(#p73319958ad)">
     <use href="#C1_0_c9fdfc9d97" x="86.13" y="289.24" style="fill: #80a8f8; stroke: #ffffff; stroke-width: 0.48"/>
    </g>
    <g clip-path="url(#p73319958ad)">
     <use href="#C1_0_c9fdfc9d97" x="98.32" y="287.48" style="fill: #80a8f8; stroke: #ffffff; stroke-width: 0.48"/>
    </g>
    <g clip-path="url(#p73319958ad)">
     <use href="#C1_0_c9fdfc9d97" x="107.23" y="288.57" style="fill: #80a8f8; stroke: #ffffff; stroke-width: 0.48"/>
    </g>
    <g clip-path="url(#p73319958ad)">
     <use href="#C1_0_c9fdfc9d97" x="123.11" y="287.14" style="fill: #80a8f8; stroke: #ffffff; stroke-width: 0.48"/>
    </g>
    <g clip-path="url(#p73319958ad)">
     <use href="#C1_0_c9fdfc9d97" x="131.68" y="283.36" style="fill: #80a8f8; stroke: #ffffff; stroke-width: 0.48"/>
    </g>
    <g clip-path="url(#p73319958ad)">
     <use href="#C1_0_c9fdfc9d97" x="74.96" y="291.09" style="fill: #80a8f8; stroke: #ffffff; stroke-width: 0.48"/>
    </g>
    <g clip-path="url(#p73319958ad)">
     <use href="#C1_0_c9fdfc9d97" x="78.91" y="291.43" style="fill: #80a8f8; stroke: #ffffff; stroke-width: 0.48"/>
    </g>
    <g clip-path="url(#p73319958ad)">
     <use href="#C1_0_c9fdfc9d97" x="87.23" y="293.61" style="fill: #80a8f8; stroke: #ffffff; stroke-width: 0.48"/>
    </g>
    <g clip-path="url(#p73319958ad)">
     <use href="#C1_0_c9fdfc9d97" x="89.66" y="293.95" style="fill: #80a8f8; stroke: #ffffff; stroke-width: 0.48"/>
    </g>
    <g clip-path="url(#p73319958ad)">
     <use href="#C1_0_c9fdfc9d97" x="96.13" y="292.52" style="fill: #80a8f8; stroke: #ffffff; stroke-width: 0.48"/>
    </g>
    <g clip-path="url(#p73319958ad)">
     <use href="#C1_0_c9fdfc9d97" x="98.66" y="294.62" style="fill: #80a8f8; stroke: #ffffff; stroke-width: 0.48"/>
    </g>
    <g clip-path="url(#p73319958ad)">
     <use href="#C1_0_c9fdfc9d97" x="107.23" y="294.62" style="fill: #80a8f8; stroke: #ffffff; stroke-width: 0.48"/>
    </g>
    <g clip-path="url(#p73319958ad)">
     <use href="#C1_0_c9fdfc9d97" x="113.7" y="294.62" style="fill: #80a8f8; stroke: #ffffff; stroke-width: 0.48"/>
    </g>
    <g clip-path="url(#p73319958ad)">
     <use href="#C1_0_c9fdfc9d97" x="126.3" y="294.62" style="fill: #80a8f8; stroke: #ffffff; stroke-width: 0.48"/>
    </g>
    <g clip-path="url(#p73319958ad)">
     <use href="#C1_0_c9fdfc9d97" x="128.4" y="297.31" style="fill: #80a8f8; stroke: #ffffff; stroke-width: 0.48"/>
    </g>
    <g clip-path="url(#p73319958ad)">
     <use href="#C1_0_c9fdfc9d97" x="75.38" y="296.47" style="fill: #80a8f8; stroke: #ffffff; stroke-width: 0.48"/>
    </g>
    <g clip-path="url(#p73319958ad)">
     <use href="#C1_0_c9fdfc9d97" x="83.28" y="298.24" style="fill: #80a8f8; stroke: #ffffff; stroke-width: 0.48"/>
    </g>
    <g clip-path="url(#p73319958ad)">
     <use href="#C1_0_c9fdfc9d97" x="89.75" y="297.14" style="fill: #80a8f8; stroke: #ffffff; stroke-width: 0.48"/>
    </g>
    <g clip-path="url(#p73319958ad)">
     <use href="#C1_0_c9fdfc9d97" x="76.05" y="302.35" style="fill: #80a8f8; stroke: #ffffff; stroke-width: 0.48"/>
    </g>
    <g clip-path="url(#p73319958ad)">
     <use href="#C1_0_c9fdfc9d97" x="83.28" y="304.71" style="fill: #80a8f8; stroke: #ffffff; stroke-width: 0.48"/>
    </g>
    <g clip-path="url(#p73319958ad)">
     <use href="#C1_0_c9fdfc9d97" x="98.32" y="302.69" style="fill: #80a8f8; stroke: #ffffff; stroke-width: 0.48"/>
    </g>
    <g clip-path="url(#p73319958ad)">
     <use href="#C1_0_c9fdfc9d97" x="102.61" y="302.69" style="fill: #80a8f8; stroke: #ffffff; stroke-width: 0.48"/>
    </g>
    <g clip-path="url(#p73319958ad)">
     <use href="#C1_0_c9fdfc9d97" x="106.55" y="302.69" style="fill: #80a8f8; stroke: #ffffff; stroke-width: 0.48"/>
    </g>
    <g clip-path="url(#p73319958ad)">
     <use href="#C1_0_c9fdfc9d97" x="77.48" y="307.9" style="fill: #80a8f8; stroke: #ffffff; stroke-width: 0.48"/>
    </g>
    <g clip-path="url(#p73319958ad)">
     <use href="#C1_0_c9fdfc9d97" x="82.86" y="305.71" style="fill: #80a8f8; stroke: #ffffff; stroke-width: 0.48"/>
    </g>
    <g clip-path="url(#p73319958ad)">
     <use href="#C1_0_c9fdfc9d97" x="107.23" y="307.9" style="fill: #80a8f8; stroke: #ffffff; stroke-width: 0.48"/>
    </g>
    <g clip-path="url(#p73319958ad)">
     <use href="#C1_0_c9fdfc9d97" x="126.47" y="309.41" style="fill: #80a8f8; stroke: #ffffff; stroke-width: 0.48"/>
    </g>
    <g clip-path="url(#p73319958ad)">
     <use href="#C1_0_c9fdfc9d97" x="139.75" y="309.41" style="fill: #80a8f8; stroke: #ffffff; stroke-width: 0.48"/>
    </g>
    <g clip-path="url(#p73319958ad)">
     <use href="#C1_0_c9fdfc9d97" x="97.23" y="311.51" style="fill: #80a8f8; stroke: #ffffff; stroke-width: 0.48"/>
    </g>
    <g clip-path="url(#p73319958ad)">
     <use href="#C1_0_c9fdfc9d97" x="105.8" y="312.18" style="fill: #80a8f8; stroke: #ffffff; stroke-width: 0.48"/>
    </g>
    <g clip-path="url(#p73319958ad)">
     <use href="#C1_0_c9fdfc9d97" x="89.5" y="313.61" style="fill: #80a8f8; stroke: #ffffff; stroke-width: 0.48"/>
    </g>
    <g clip-path="url(#p73319958ad)">
     <use href="#C1_0_c9fdfc9d97" x="102.27" y="315.8" style="fill: #80a8f8; stroke: #ffffff; stroke-width: 0.48"/>
    </g>
    <g clip-path="url(#p73319958ad)">
     <use href="#C1_0_c9fdfc9d97" x="115.55" y="316.13" style="fill: #80a8f8; stroke: #ffffff; stroke-width: 0.48"/>
    </g>
    <g clip-path="url(#p73319958ad)">
     <use href="#C1_0_c9fdfc9d97" x="75.71" y="317.56" style="fill: #80a8f8; stroke: #ffffff; stroke-width: 0.48"/>
    </g>
    <g clip-path="url(#p73319958ad)">
     <use href="#C1_0_c9fdfc9d97" x="77.82" y="317.56" style="fill: #80a8f8; stroke: #ffffff; stroke-width: 0.48"/>
    </g>
    <g clip-path="url(#p73319958ad)">
     <use href="#C1_0_c9fdfc9d97" x="82.52" y="317.56" style="fill: #80a8f8; stroke: #ffffff; stroke-width: 0.48"/>
    </g>
    <g clip-path="url(#p73319958ad)">
     <use href="#C1_0_c9fdfc9d97" x="87.82" y="318.32" style="fill: #80a8f8; stroke: #ffffff; stroke-width: 0.48"/>
    </g>
    <g clip-path="url(#p73319958ad)">
     <use href="#C1_0_c9fdfc9d97" x="96.13" y="317.65" style="fill: #80a8f8; stroke: #ffffff; stroke-width: 0.48"/>
    </g>
    <g clip-path="url(#p73319958ad)">
     <use href="#C1_0_c9fdfc9d97" x="105.8" y="318.32" style="fill: #80a8f8; stroke: #ffffff; stroke-width: 0.48"/>
    </g>
    <g clip-path="url(#p73319958ad)">
     <use href="#C1_0_c9fdfc9d97" x="139.75" y="318.82" style="fill: #80a8f8; stroke: #ffffff; stroke-width: 0.48"/>
    </g>
    <g clip-path="url(#p73319958ad)">
     <use href="#C1_0_c9fdfc9d97" x="153.95" y="317.65" style="fill: #80a8f8; stroke: #ffffff; stroke-width: 0.48"/>
    </g>
    <g clip-path="url(#p73319958ad)">
     <use href="#C1_0_c9fdfc9d97" x="83.95" y="321.51" style="fill: #80a8f8; stroke: #ffffff; stroke-width: 0.48"/>
    </g>
    <g clip-path="url(#p73319958ad)">
     <use href="#C1_0_c9fdfc9d97" x="104.54" y="324.2" style="fill: #80a8f8; stroke: #ffffff; stroke-width: 0.48"/>
    </g>
    <g clip-path="url(#p73319958ad)">
     <use href="#C1_0_c9fdfc9d97" x="110.5" y="324.45" style="fill: #80a8f8; stroke: #ffffff; stroke-width: 0.48"/>
    </g>
    <g clip-path="url(#p73319958ad)">
     <use href="#C1_0_c9fdfc9d97" x="115.55" y="324.79" style="fill: #80a8f8; stroke: #ffffff; stroke-width: 0.48"/>
    </g>
    <g clip-path="url(#p73319958ad)">
     <use href="#C1_0_c9fdfc9d97" x="146.22" y="324.45" style="fill: #80a8f8; stroke: #ffffff; stroke-width: 0.48"/>
    </g>
    <g clip-path="url(#p73319958ad)">
     <use href="#C1_0_c9fdfc9d97" x="83.61" y="327.06" style="fill: #80a8f8; stroke: #ffffff; stroke-width: 0.48"/>
    </g>
    <g clip-path="url(#p73319958ad)">
     <use href="#C1_0_c9fdfc9d97" x="90.42" y="326.22" style="fill: #80a8f8; stroke: #ffffff; stroke-width: 0.48"/>
    </g>
    <g clip-path="url(#p73319958ad)">
     <use href="#C1_0_c9fdfc9d97" x="94.71" y="326.72" style="fill: #80a8f8; stroke: #ffffff; stroke-width: 0.48"/>
    </g>
    <g clip-path="url(#p73319958ad)">
     <use href="#C1_0_c9fdfc9d97" x="144.71" y="328.66" style="fill: #80a8f8; stroke: #ffffff; stroke-width: 0.48"/>
    </g>
    <g clip-path="url(#p73319958ad)">
     <use href="#C1_0_c9fdfc9d97" x="87.82" y="331.76" style="fill: #80a8f8; stroke: #ffffff; stroke-width: 0.48"/>
    </g>
    <g clip-path="url(#p73319958ad)">
     <use href="#C1_0_c9fdfc9d97" x="103.28" y="331.51" style="fill: #80a8f8; stroke: #ffffff; stroke-width: 0.48"/>
    </g>
    <g clip-path="url(#p73319958ad)">
     <use href="#C1_0_c9fdfc9d97" x="109.08" y="330.5" style="fill: #80a8f8; stroke: #ffffff; stroke-width: 0.48"/>
    </g>
    <g clip-path="url(#p73319958ad)">
     <use href="#C1_0_c9fdfc9d97" x="113.03" y="331.6" style="fill: #80a8f8; stroke: #ffffff; stroke-width: 0.48"/>
    </g>
    <g clip-path="url(#p73319958ad)">
     <use href="#C1_0_c9fdfc9d97" x="117.65" y="330.17" style="fill: #80a8f8; stroke: #ffffff; stroke-width: 0.48"/>
    </g>
    <g clip-path="url(#p73319958ad)">
     <use href="#C1_0_c9fdfc9d97" x="121.18" y="330.84" style="fill: #80a8f8; stroke: #ffffff; stroke-width: 0.48"/>
    </g>
    <g clip-path="url(#p73319958ad)">
     <use href="#C1_0_c9fdfc9d97" x="113.7" y="334.96" style="fill: #80a8f8; stroke: #ffffff; stroke-width: 0.48"/>
    </g>
    <g clip-path="url(#p73319958ad)">
     <use href="#C1_0_c9fdfc9d97" x="118.24" y="334.03" style="fill: #80a8f8; stroke: #ffffff; stroke-width: 0.48"/>
    </g>
    <g clip-path="url(#p73319958ad)">
     <use href="#C1_0_c9fdfc9d97" x="146.05" y="333.45" style="fill: #80a8f8; stroke: #ffffff; stroke-width: 0.48"/>
    </g>
    <g clip-path="url(#p73319958ad)">
     <use href="#C1_0_c9fdfc9d97" x="167.98" y="333.03" style="fill: #80a8f8; stroke: #ffffff; stroke-width: 0.48"/>
    </g>
    <g clip-path="url(#p73319958ad)">
     <use href="#C1_0_c9fdfc9d97" x="91.26" y="335.13" style="fill: #80a8f8; stroke: #ffffff; stroke-width: 0.48"/>
    </g>
    <g clip-path="url(#p73319958ad)">
     <use href="#C1_0_c9fdfc9d97" x="98.99" y="333.78" style="fill: #80a8f8; stroke: #ffffff; stroke-width: 0.48"/>
    </g>
    <g clip-path="url(#p73319958ad)">
     <use href="#C1_0_c9fdfc9d97" x="102.52" y="336.39" style="fill: #80a8f8; stroke: #ffffff; stroke-width: 0.48"/>
    </g>
    <g clip-path="url(#p73319958ad)">
     <use href="#C1_0_c9fdfc9d97" x="106.3" y="336.81" style="fill: #80a8f8; stroke: #ffffff; stroke-width: 0.48"/>
    </g>
    <g clip-path="url(#p73319958ad)">
     <use href="#C1_0_c9fdfc9d97" x="111.6" y="335.46" style="fill: #80a8f8; stroke: #ffffff; stroke-width: 0.48"/>
    </g>
    <g clip-path="url(#p73319958ad)">
     <use href="#C1_0_c9fdfc9d97" x="101.09" y="340.5" style="fill: #80a8f8; stroke: #ffffff; stroke-width: 0.48"/>
    </g>
    <g clip-path="url(#p73319958ad)">
     <use href="#C1_0_c9fdfc9d97" x="106.97" y="343.7" style="fill: #80a8f8; stroke: #ffffff; stroke-width: 0.48"/>
    </g>
    <g clip-path="url(#p73319958ad)">
     <use href="#C1_0_c9fdfc9d97" x="115.55" y="343.28" style="fill: #80a8f8; stroke: #ffffff; stroke-width: 0.48"/>
    </g>
    <g clip-path="url(#p73319958ad)">
     <use href="#C1_0_c9fdfc9d97" x="126.22" y="344.12" style="fill: #80a8f8; stroke: #ffffff; stroke-width: 0.48"/>
    </g>
    <g clip-path="url(#p73319958ad)">
     <use href="#C1_0_c9fdfc9d97" x="133.78" y="344.12" style="fill: #80a8f8; stroke: #ffffff; stroke-width: 0.48"/>
    </g>
    <g clip-path="url(#p73319958ad)">
     <use href="#C1_0_c9fdfc9d97" x="149.75" y="344.03" style="fill: #80a8f8; stroke: #ffffff; stroke-width: 0.48"/>
    </g>
    <g clip-path="url(#p73319958ad)">
     <use href="#C1_0_c9fdfc9d97" x="154.87" y="343.61" style="fill: #80a8f8; stroke: #ffffff; stroke-width: 0.48"/>
    </g>
    <g clip-path="url(#p73319958ad)">
     <use href="#C1_0_c9fdfc9d97" x="103.03" y="344.12" style="fill: #80a8f8; stroke: #ffffff; stroke-width: 0.48"/>
    </g>
    <g clip-path="url(#p73319958ad)">
     <use href="#C1_0_c9fdfc9d97" x="97.9" y="348.32" style="fill: #80a8f8; stroke: #ffffff; stroke-width: 0.48"/>
    </g>
    <g clip-path="url(#p73319958ad)">
     <use href="#C1_0_c9fdfc9d97" x="105.04" y="348.49" style="fill: #80a8f8; stroke: #ffffff; stroke-width: 0.48"/>
    </g>
    <g clip-path="url(#p73319958ad)">
     <use href="#C1_0_c9fdfc9d97" x="110.08" y="348.32" style="fill: #80a8f8; stroke: #ffffff; stroke-width: 0.48"/>
    </g>
    <g clip-path="url(#p73319958ad)">
     <use href="#C1_0_c9fdfc9d97" x="112.52" y="347.82" style="fill: #80a8f8; stroke: #ffffff; stroke-width: 0.48"/>
    </g>
    <g clip-path="url(#p73319958ad)">
     <use href="#C1_0_c9fdfc9d97" x="80.42" y="334.29" style="fill: #dddcdc; stroke: #ffffff; stroke-width: 0.48"/>
    </g>
    <g clip-path="url(#p73319958ad)">
     <use href="#C1_0_c9fdfc9d97" x="86.89" y="347.82" style="fill: #dddcdc; stroke: #ffffff; stroke-width: 0.48"/>
    </g>
    <g clip-path="url(#p73319958ad)">
     <use href="#C1_0_c9fdfc9d97" x="89.16" y="347.82" style="fill: #dddcdc; stroke: #ffffff; stroke-width: 0.48"/>
    </g>
    <g clip-path="url(#p73319958ad)">
     <use href="#C1_0_c9fdfc9d97" x="128.24" y="210.5" style="fill: #f08c6c; stroke: #ffffff; stroke-width: 0.48"/>
    </g>
    <g clip-path="url(#p73319958ad)">
     <use href="#C1_0_c9fdfc9d97" x="86.3" y="225.8" style="fill: #f08c6c; stroke: #ffffff; stroke-width: 0.48"/>
    </g>
    <g clip-path="url(#p73319958ad)">
     <use href="#C1_0_c9fdfc9d97" x="88.32" y="235.38" style="fill: #f08c6c; stroke: #ffffff; stroke-width: 0.48"/>
    </g>
    <g clip-path="url(#p73319958ad)">
     <use href="#C1_0_c9fdfc9d97" x="85.21" y="240.92" style="fill: #f08c6c; stroke: #ffffff; stroke-width: 0.48"/>
    </g>
    <g clip-path="url(#p73319958ad)">
     <use href="#C1_0_c9fdfc9d97" x="99.83" y="241.01" style="fill: #f08c6c; stroke: #ffffff; stroke-width: 0.48"/>
    </g>
    <g clip-path="url(#p73319958ad)">
     <use href="#C1_0_c9fdfc9d97" x="77.14" y="255.29" style="fill: #f08c6c; stroke: #ffffff; stroke-width: 0.48"/>
    </g>
    <g clip-path="url(#p73319958ad)">
     <use href="#C1_0_c9fdfc9d97" x="119.92" y="308.82" style="fill: #f08c6c; stroke: #ffffff; stroke-width: 0.48"/>
    </g>
    <g clip-path="url(#p73319958ad)">
     <use href="#C1_0_c9fdfc9d97" x="125.21" y="326.22" style="fill: #f08c6c; stroke: #ffffff; stroke-width: 0.48"/>
    </g>
    <g clip-path="url(#p73319958ad)">
     <use href="#C1_0_c9fdfc9d97" x="136.72" y="333.45" style="fill: #f08c6c; stroke: #ffffff; stroke-width: 0.48"/>
    </g>
    <g clip-path="url(#p73319958ad)">
     <use href="#C1_0_c9fdfc9d97" x="85.97" y="337.06" style="fill: #f08c6c; stroke: #ffffff; stroke-width: 0.48"/>
    </g>
    <g clip-path="url(#p73319958ad)">
     <use href="#C1_0_c9fdfc9d97" x="96.47" y="337.06" style="fill: #f08c6c; stroke: #ffffff; stroke-width: 0.48"/>
    </g>
    <g clip-path="url(#p73319958ad)">
     <use href="#C1_0_c9fdfc9d97" x="88.91" y="325.04" style="fill: #f08c6c; stroke: #ffffff; stroke-width: 0.48"/>
    </g>
   </g>
   <g id="patch_9">
    <path d="M 45.21 355.88 
L 45.21 203.7 
" style="fill: none; stroke: #000000; stroke-width: 0.8; stroke-linejoin: miter; stroke-linecap: square"/>
   </g>
   <g id="patch_10">
    <path d="M 45.21 355.88 
L 193.7 355.88 
" style="fill: none; stroke: #000000; stroke-width: 0.8; stroke-linejoin: miter; stroke-linecap: square"/>
   </g>
  </g>
  <g id="axes_4">
   <g id="patch_11">
    <path d="M 201.26 355.88 
L 349.92 355.88 
L 349.92 203.7 
L 201.26 203.7 
L 201.26 355.88 
z
" style="fill: none"/>
   </g>
   <g id="matplotlib.axis_7">
    <g id="xtick_12">
     <g id="line2d_29">
      <g>
       <use href="#m9a016e3dbc" x="236.39" y="355.88" style="stroke: #000000; stroke-width: 0.8"/>
      </g>
     </g>
     <g id="text_19">
      <text style="font-size: 10px; font-family: 'DejaVu Sans', 'Liberation Sans', sans-serif; text-anchor: middle" x="236.22" y="370.23" transform="rotate(-0 236.22 370.23)" textLength="15.40" lengthAdjust="spacing">0.0</text>
     </g>
    </g>
    <g id="xtick_13">
     <g id="line2d_30">
      <g>
       <use href="#m9a016e3dbc" x="276.43" y="355.88" style="stroke: #000000; stroke-width: 0.8"/>
      </g>
     </g>
     <g id="text_20">
      <text style="font-size: 10px; font-family: 'DejaVu Sans', 'Liberation Sans', sans-serif; text-anchor: middle" x="277.02" y="370.23" transform="rotate(-0 277.02 370.23)" textLength="15.40" lengthAdjust="spacing">0.5</text>
     </g>
    </g>
    <g id="xtick_14">
     <g id="line2d_31">
      <g>
       <use href="#m9a016e3dbc" x="316.47" y="355.88" style="stroke: #000000; stroke-width: 0.8"/>
      </g>
     </g>
     <g id="text_21">
      <text style="font-size: 10px; font-family: 'DejaVu Sans', 'Liberation Sans', sans-serif; text-anchor: middle" x="315.21" y="370.23" transform="rotate(-0 315.21 370.23)" textLength="15.40" lengthAdjust="spacing">1.0</text>
     </g>
    </g>
    <g id="text_22">
     <text style="font-size: 10px; font-family: 'DejaVu Sans', 'Liberation Sans', sans-serif; text-anchor: middle" x="275.08" y="384.41" transform="rotate(-0 275.08 384.41)">Axial Load Ratio</text>
    </g>
   </g>
   <g id="matplotlib.axis_8">
    <g id="ytick_18">
     <g id="line2d_32">
      <g>
       <use href="#m037271180b" x="201.26" y="348.91" style="stroke: #000000; stroke-width: 0.8"/>
      </g>
     </g>
    </g>
    <g id="ytick_19">
     <g id="line2d_33">
      <g>
       <use href="#m037271180b" x="201.26" y="318.17" style="stroke: #000000; stroke-width: 0.8"/>
      </g>
     </g>
    </g>
    <g id="ytick_20">
     <g id="line2d_34">
      <g>
       <use href="#m037271180b" x="201.26" y="287.43" style="stroke: #000000; stroke-width: 0.8"/>
      </g>
     </g>
    </g>
    <g id="ytick_21">
     <g id="line2d_35">
      <g>
       <use href="#m037271180b" x="201.26" y="256.69" style="stroke: #000000; stroke-width: 0.8"/>
      </g>
     </g>
    </g>
    <g id="ytick_22">
     <g id="line2d_36">
      <g>
       <use href="#m037271180b" x="201.26" y="225.95" style="stroke: #000000; stroke-width: 0.8"/>
      </g>
     </g>
    </g>
   </g>
   <g id="patch_12">
    <path d="M 201.26 355.88 
L 201.26 203.7 
" style="fill: none; stroke: #000000; stroke-width: 0.8; stroke-linejoin: miter; stroke-linecap: square"/>
   </g>
   <g id="patch_13">
    <path d="M 201.26 355.88 
L 349.92 355.88 
" style="fill: none; stroke: #000000; stroke-width: 0.8; stroke-linejoin: miter; stroke-linecap: square"/>
   </g>
  </g>
  <g id="axes_5">
   <g id="FillBetweenPolyCollection_1">
    <defs>
     <path id="m603fa49c3d" d="M 51.51 -197.06 
L 51.51 -197.06 
L 52.05 -197.06 
L 52.59 -197.06 
L 53.13 -197.06 
L 53.67 -197.06 
L 54.21 -197.06 
L 54.76 -197.06 
L 55.3 -197.06 
L 55.84 -197.06 
L 56.38 -197.06 
L 56.92 -197.06 
L 57.46 -197.06 
L 58 -197.06 
L 58.54 -197.06 
L 59.08 -197.06 
L 59.62 -197.06 
L 60.16 -197.06 
L 60.7 -197.06 
L 61.24 -197.06 
L 61.78 -197.06 
L 62.32 -197.06 
L 62.86 -197.06 
L 63.4 -197.06 
L 63.94 -197.06 
L 64.48 -197.06 
L 65.02 -197.06 
L 65.56 -197.06 
L 66.1 -197.06 
L 66.64 -197.06 
L 67.18 -197.06 
L 67.73 -197.06 
L 68.27 -197.06 
L 68.81 -197.06 
L 69.35 -197.06 
L 69.89 -197.06 
L 70.43 -197.06 
L 70.97 -197.06 
L 71.51 -197.06 
L 72.05 -197.06 
L 72.59 -197.06 
L 73.13 -197.06 
L 73.67 -197.06 
L 74.21 -197.06 
L 74.75 -197.06 
L 75.29 -197.06 
L 75.83 -197.06 
L 76.37 -197.06 
L 76.91 -197.06 
L 77.45 -197.06 
L 77.99 -197.06 
L 78.53 -197.06 
L 79.07 -197.06 
L 79.61 -197.06 
L 80.15 -197.06 
L 80.7 -197.06 
L 81.24 -197.06 
L 81.78 -197.06 
L 82.32 -197.06 
L 82.86 -197.06 
L 83.4 -197.06 
L 83.94 -197.06 
L 84.48 -197.06 
L 85.02 -197.06 
L 85.56 -197.06 
L 86.1 -197.06 
L 86.64 -197.06 
L 87.18 -197.06 
L 87.72 -197.06 
L 88.26 -197.06 
L 88.8 -197.06 
L 89.34 -197.06 
L 89.88 -197.06 
L 90.42 -197.06 
L 90.96 -197.06 
L 91.5 -197.06 
L 92.04 -197.06 
L 92.58 -197.06 
L 93.12 -197.06 
L 93.67 -197.06 
L 94.21 -197.06 
L 94.75 -197.06 
L 95.29 -197.06 
L 95.83 -197.06 
L 96.37 -197.06 
L 96.91 -197.06 
L 97.45 -197.06 
L 97.99 -197.06 
L 98.53 -197.06 
L 99.07 -197.06 
L 99.61 -197.06 
L 100.15 -197.06 
L 100.69 -197.06 
L 101.23 -197.06 
L 101.77 -197.06 
L 102.31 -197.06 
L 102.85 -197.06 
L 103.39 -197.06 
L 103.93 -197.06 
L 104.47 -197.06 
L 105.01 -197.06 
L 105.55 -197.06 
L 106.09 -197.06 
L 106.64 -197.06 
L 107.18 -197.06 
L 107.72 -197.06 
L 108.26 -197.06 
L 108.8 -197.06 
L 109.34 -197.06 
L 109.88 -197.06 
L 110.42 -197.06 
L 110.96 -197.06 
L 111.5 -197.06 
L 112.04 -197.06 
L 112.58 -197.06 
L 113.12 -197.06 
L 113.66 -197.06 
L 114.2 -197.06 
L 114.74 -197.06 
L 115.28 -197.06 
L 115.82 -197.06 
L 116.36 -197.06 
L 116.9 -197.06 
L 117.44 -197.06 
L 117.98 -197.06 
L 118.52 -197.06 
L 119.06 -197.06 
L 119.61 -197.06 
L 120.15 -197.06 
L 120.69 -197.06 
L 121.23 -197.06 
L 121.77 -197.06 
L 122.31 -197.06 
L 122.85 -197.06 
L 123.39 -197.06 
L 123.93 -197.06 
L 124.47 -197.06 
L 125.01 -197.06 
L 125.55 -197.06 
L 126.09 -197.06 
L 126.63 -197.06 
L 127.17 -197.06 
L 127.71 -197.06 
L 128.25 -197.06 
L 128.79 -197.06 
L 129.33 -197.06 
L 129.87 -197.06 
L 130.41 -197.06 
L 130.95 -197.06 
L 131.49 -197.06 
L 132.03 -197.06 
L 132.58 -197.06 
L 133.12 -197.06 
L 133.66 -197.06 
L 134.2 -197.06 
L 134.74 -197.06 
L 135.28 -197.06 
L 135.82 -197.06 
L 136.36 -197.06 
L 136.9 -197.06 
L 137.44 -197.06 
L 137.98 -197.06 
L 138.52 -197.06 
L 139.06 -197.06 
L 139.6 -197.06 
L 140.14 -197.06 
L 140.68 -197.06 
L 141.22 -197.06 
L 141.76 -197.06 
L 142.3 -197.06 
L 142.84 -197.06 
L 143.38 -197.06 
L 143.92 -197.06 
L 144.46 -197.06 
L 145 -197.06 
L 145.55 -197.06 
L 146.09 -197.06 
L 146.63 -197.06 
L 147.17 -197.06 
L 147.71 -197.06 
L 148.25 -197.06 
L 148.79 -197.06 
L 149.33 -197.06 
L 149.87 -197.06 
L 150.41 -197.06 
L 150.95 -197.06 
L 151.49 -197.06 
L 152.03 -197.06 
L 152.57 -197.06 
L 153.11 -197.06 
L 153.65 -197.06 
L 154.19 -197.06 
L 154.73 -197.06 
L 155.27 -197.06 
L 155.81 -197.06 
L 156.35 -197.06 
L 156.89 -197.06 
L 157.43 -197.06 
L 157.97 -197.06 
L 158.52 -197.06 
L 159.06 -197.06 
L 159.6 -197.06 
L 160.14 -197.06 
L 160.68 -197.06 
L 161.22 -197.06 
L 161.76 -197.06 
L 162.3 -197.06 
L 162.84 -197.06 
L 163.38 -197.06 
L 163.92 -197.06 
L 164.46 -197.06 
L 165 -197.06 
L 165.54 -197.06 
L 166.08 -197.06 
L 166.62 -197.06 
L 167.16 -197.06 
L 167.7 -197.06 
L 168.24 -197.06 
L 168.78 -197.06 
L 169.32 -197.06 
L 169.86 -197.06 
L 170.4 -197.06 
L 170.94 -197.06 
L 171.49 -197.06 
L 172.03 -197.06 
L 172.57 -197.06 
L 173.11 -197.06 
L 173.65 -197.06 
L 174.19 -197.06 
L 174.73 -197.06 
L 175.27 -197.06 
L 175.81 -197.06 
L 176.35 -197.06 
L 176.89 -197.06 
L 177.43 -197.06 
L 177.97 -197.06 
L 178.51 -197.06 
L 179.05 -197.06 
L 179.59 -197.06 
L 180.13 -197.06 
L 180.67 -197.06 
L 180.67 -197.06 
L 180.67 -197.06 
L 180.13 -197.06 
L 179.59 -197.06 
L 179.05 -197.06 
L 178.51 -197.06 
L 177.97 -197.06 
L 177.43 -197.06 
L 176.89 -197.06 
L 176.35 -197.06 
L 175.81 -197.06 
L 175.27 -197.06 
L 174.73 -197.06 
L 174.19 -197.06 
L 173.65 -197.06 
L 173.11 -197.06 
L 172.57 -197.06 
L 172.03 -197.06 
L 171.49 -197.06 
L 170.94 -197.06 
L 170.4 -197.06 
L 169.86 -197.06 
L 169.32 -197.06 
L 168.78 -197.06 
L 168.24 -197.06 
L 167.7 -197.06 
L 167.16 -197.06 
L 166.62 -197.06 
L 166.08 -197.06 
L 165.54 -197.06 
L 165 -197.06 
L 164.46 -197.06 
L 163.92 -197.06 
L 163.38 -197.06 
L 162.84 -197.06 
L 162.3 -197.07 
L 161.76 -197.08 
L 161.22 -197.09 
L 160.68 -197.1 
L 160.14 -197.11 
L 159.6 -197.13 
L 159.06 -197.15 
L 158.52 -197.17 
L 157.97 -197.19 
L 157.43 -197.21 
L 156.89 -197.23 
L 156.35 -197.25 
L 155.81 -197.28 
L 155.27 -197.3 
L 154.73 -197.33 
L 154.19 -197.36 
L 153.65 -197.4 
L 153.11 -197.44 
L 152.57 -197.5 
L 152.03 -197.55 
L 151.49 -197.61 
L 150.95 -197.68 
L 150.41 -197.75 
L 149.87 -197.82 
L 149.33 -197.89 
L 148.79 -197.97 
L 148.25 -198.04 
L 147.71 -198.12 
L 147.17 -198.2 
L 146.63 -198.28 
L 146.09 -198.36 
L 145.55 -198.45 
L 145 -198.55 
L 144.46 -198.65 
L 143.92 -198.75 
L 143.38 -198.86 
L 142.84 -198.97 
L 142.3 -199.09 
L 141.76 -199.21 
L 141.22 -199.33 
L 140.68 -199.46 
L 140.14 -199.59 
L 139.6 -199.72 
L 139.06 -199.87 
L 138.52 -200.02 
L 137.98 -200.18 
L 137.44 -200.34 
L 136.9 -200.52 
L 136.36 -200.7 
L 135.82 -200.89 
L 135.28 -201.08 
L 134.74 -201.28 
L 134.2 -201.48 
L 133.66 -201.69 
L 133.12 -201.9 
L 132.58 -202.11 
L 132.03 -202.33 
L 131.49 -202.56 
L 130.95 -202.82 
L 130.41 -203.09 
L 129.87 -203.37 
L 129.33 -203.65 
L 128.79 -203.95 
L 128.25 -204.24 
L 127.71 -204.54 
L 127.17 -204.82 
L 126.63 -205.1 
L 126.09 -205.37 
L 125.55 -205.63 
L 125.01 -205.86 
L 124.47 -206.08 
L 123.93 -206.28 
L 123.39 -206.48 
L 122.85 -206.68 
L 122.31 -206.87 
L 121.77 -207.05 
L 121.23 -207.23 
L 120.69 -207.41 
L 120.15 -207.57 
L 119.61 -207.73 
L 119.06 -207.89 
L 118.52 -208.03 
L 117.98 -208.16 
L 117.44 -208.29 
L 116.9 -208.4 
L 116.36 -208.5 
L 115.82 -208.6 
L 115.28 -208.68 
L 114.74 -208.76 
L 114.2 -208.83 
L 113.66 -208.9 
L 113.12 -208.97 
L 112.58 -209.04 
L 112.04 -209.11 
L 111.5 -209.19 
L 110.96 -209.27 
L 110.42 -209.37 
L 109.88 -209.47 
L 109.34 -209.57 
L 108.8 -209.68 
L 108.26 -209.79 
L 107.72 -209.9 
L 107.18 -210.02 
L 106.64 -210.15 
L 106.09 -210.28 
L 105.55 -210.42 
L 105.01 -210.57 
L 104.47 -210.73 
L 103.93 -210.9 
L 103.39 -211.07 
L 102.85 -211.26 
L 102.31 -211.49 
L 101.77 -211.79 
L 101.23 -212.13 
L 100.69 -212.5 
L 100.15 -212.9 
L 99.61 -213.3 
L 99.07 -213.69 
L 98.53 -214.06 
L 97.99 -214.39 
L 97.45 -214.68 
L 96.91 -214.9 
L 96.37 -215.06 
L 95.83 -215.22 
L 95.29 -215.37 
L 94.75 -215.51 
L 94.21 -215.64 
L 93.67 -215.77 
L 93.12 -215.88 
L 92.58 -215.97 
L 92.04 -216.04 
L 91.5 -216.1 
L 90.96 -216.13 
L 90.42 -216.13 
L 89.88 -216.1 
L 89.34 -216.03 
L 88.8 -215.93 
L 88.26 -215.8 
L 87.72 -215.65 
L 87.18 -215.48 
L 86.64 -215.3 
L 86.1 -215.1 
L 85.56 -214.9 
L 85.02 -214.63 
L 84.48 -214.29 
L 83.94 -213.89 
L 83.4 -213.43 
L 82.86 -212.92 
L 82.32 -212.38 
L 81.78 -211.81 
L 81.24 -211.23 
L 80.7 -210.63 
L 80.15 -210.03 
L 79.61 -209.45 
L 79.07 -208.83 
L 78.53 -208.13 
L 77.99 -207.42 
L 77.45 -206.74 
L 76.91 -206.15 
L 76.37 -205.63 
L 75.83 -205.13 
L 75.29 -204.67 
L 74.75 -204.22 
L 74.21 -203.79 
L 73.67 -203.37 
L 73.13 -202.96 
L 72.59 -202.57 
L 72.05 -202.19 
L 71.51 -201.82 
L 70.97 -201.46 
L 70.43 -201.1 
L 69.89 -200.74 
L 69.35 -200.38 
L 68.81 -200.02 
L 68.27 -199.68 
L 67.73 -199.35 
L 67.18 -199.03 
L 66.64 -198.74 
L 66.1 -198.45 
L 65.56 -198.16 
L 65.02 -197.89 
L 64.48 -197.66 
L 63.94 -197.51 
L 63.4 -197.43 
L 62.86 -197.37 
L 62.32 -197.31 
L 61.78 -197.27 
L 61.24 -197.24 
L 60.7 -197.21 
L 60.16 -197.19 
L 59.62 -197.17 
L 59.08 -197.16 
L 58.54 -197.15 
L 58 -197.14 
L 57.46 -197.13 
L 56.92 -197.12 
L 56.38 -197.11 
L 55.84 -197.11 
L 55.3 -197.1 
L 54.76 -197.09 
L 54.21 -197.09 
L 53.67 -197.08 
L 53.13 -197.07 
L 52.59 -197.07 
L 52.05 -197.06 
L 51.51 -197.06 
z
" style="stroke: #eea08a"/>
    </defs>
    <g>
     <use href="#m603fa49c3d" x="0" y="393.28" style="fill: #f08c6c; fill-opacity: 0.25; stroke: #eea08a"/>
    </g>
   </g>
   <g id="FillBetweenPolyCollection_2">
    <defs>
     <path id="m8a9c5c975b" d="M 55.46 -197.06 
L 55.46 -197.06 
L 55.76 -197.06 
L 56.05 -197.06 
L 56.35 -197.06 
L 56.64 -197.06 
L 56.94 -197.06 
L 57.23 -197.06 
L 57.53 -197.06 
L 57.82 -197.06 
L 58.12 -197.06 
L 58.42 -197.06 
L 58.71 -197.06 
L 59.01 -197.06 
L 59.3 -197.06 
L 59.6 -197.06 
L 59.89 -197.06 
L 60.19 -197.06 
L 60.48 -197.06 
L 60.78 -197.06 
L 61.07 -197.06 
L 61.37 -197.06 
L 61.66 -197.06 
L 61.96 -197.06 
L 62.26 -197.06 
L 62.55 -197.06 
L 62.85 -197.06 
L 63.14 -197.06 
L 63.44 -197.06 
L 63.73 -197.06 
L 64.03 -197.06 
L 64.32 -197.06 
L 64.62 -197.06 
L 64.91 -197.06 
L 65.21 -197.06 
L 65.5 -197.06 
L 65.8 -197.06 
L 66.09 -197.06 
L 66.39 -197.06 
L 66.69 -197.06 
L 66.98 -197.06 
L 67.28 -197.06 
L 67.57 -197.06 
L 67.87 -197.06 
L 68.16 -197.06 
L 68.46 -197.06 
L 68.75 -197.06 
L 69.05 -197.06 
L 69.34 -197.06 
L 69.64 -197.06 
L 69.93 -197.06 
L 70.23 -197.06 
L 70.52 -197.06 
L 70.82 -197.06 
L 71.12 -197.06 
L 71.41 -197.06 
L 71.71 -197.06 
L 72 -197.06 
L 72.3 -197.06 
L 72.59 -197.06 
L 72.89 -197.06 
L 73.18 -197.06 
L 73.48 -197.06 
L 73.77 -197.06 
L 74.07 -197.06 
L 74.36 -197.06 
L 74.66 -197.06 
L 74.96 -197.06 
L 75.25 -197.06 
L 75.55 -197.06 
L 75.84 -197.06 
L 76.14 -197.06 
L 76.43 -197.06 
L 76.73 -197.06 
L 77.02 -197.06 
L 77.32 -197.06 
L 77.61 -197.06 
L 77.91 -197.06 
L 78.2 -197.06 
L 78.5 -197.06 
L 78.79 -197.06 
L 79.09 -197.06 
L 79.39 -197.06 
L 79.68 -197.06 
L 79.98 -197.06 
L 80.27 -197.06 
L 80.57 -197.06 
L 80.86 -197.06 
L 81.16 -197.06 
L 81.45 -197.06 
L 81.75 -197.06 
L 82.04 -197.06 
L 82.34 -197.06 
L 82.63 -197.06 
L 82.93 -197.06 
L 83.22 -197.06 
L 83.52 -197.06 
L 83.82 -197.06 
L 84.11 -197.06 
L 84.41 -197.06 
L 84.7 -197.06 
L 85 -197.06 
L 85.29 -197.06 
L 85.59 -197.06 
L 85.88 -197.06 
L 86.18 -197.06 
L 86.47 -197.06 
L 86.77 -197.06 
L 87.06 -197.06 
L 87.36 -197.06 
L 87.66 -197.06 
L 87.95 -197.06 
L 88.25 -197.06 
L 88.54 -197.06 
L 88.84 -197.06 
L 89.13 -197.06 
L 89.43 -197.06 
L 89.72 -197.06 
L 90.02 -197.06 
L 90.31 -197.06 
L 90.61 -197.06 
L 90.9 -197.06 
L 91.2 -197.06 
L 91.49 -197.06 
L 91.79 -197.06 
L 92.09 -197.06 
L 92.38 -197.06 
L 92.68 -197.06 
L 92.97 -197.06 
L 93.27 -197.06 
L 93.56 -197.06 
L 93.86 -197.06 
L 94.15 -197.06 
L 94.45 -197.06 
L 94.74 -197.06 
L 95.04 -197.06 
L 95.33 -197.06 
L 95.63 -197.06 
L 95.92 -197.06 
L 96.22 -197.06 
L 96.52 -197.06 
L 96.81 -197.06 
L 97.11 -197.06 
L 97.4 -197.06 
L 97.7 -197.06 
L 97.99 -197.06 
L 98.29 -197.06 
L 98.58 -197.06 
L 98.88 -197.06 
L 99.17 -197.06 
L 99.47 -197.06 
L 99.76 -197.06 
L 100.06 -197.06 
L 100.36 -197.06 
L 100.65 -197.06 
L 100.95 -197.06 
L 101.24 -197.06 
L 101.54 -197.06 
L 101.83 -197.06 
L 102.13 -197.06 
L 102.42 -197.06 
L 102.72 -197.06 
L 103.01 -197.06 
L 103.31 -197.06 
L 103.6 -197.06 
L 103.9 -197.06 
L 104.19 -197.06 
L 104.49 -197.06 
L 104.79 -197.06 
L 105.08 -197.06 
L 105.38 -197.06 
L 105.67 -197.06 
L 105.97 -197.06 
L 106.26 -197.06 
L 106.56 -197.06 
L 106.85 -197.06 
L 107.15 -197.06 
L 107.44 -197.06 
L 107.74 -197.06 
L 108.03 -197.06 
L 108.33 -197.06 
L 108.62 -197.06 
L 108.92 -197.06 
L 109.22 -197.06 
L 109.51 -197.06 
L 109.81 -197.06 
L 110.1 -197.06 
L 110.4 -197.06 
L 110.69 -197.06 
L 110.99 -197.06 
L 111.28 -197.06 
L 111.58 -197.06 
L 111.87 -197.06 
L 112.17 -197.06 
L 112.46 -197.06 
L 112.76 -197.06 
L 113.06 -197.06 
L 113.35 -197.06 
L 113.65 -197.06 
L 113.94 -197.06 
L 114.24 -197.06 
L 114.53 -197.06 
L 114.83 -197.06 
L 115.12 -197.06 
L 115.42 -197.06 
L 115.71 -197.06 
L 116.01 -197.06 
L 116.3 -197.06 
L 116.6 -197.06 
L 116.89 -197.06 
L 117.19 -197.06 
L 117.49 -197.06 
L 117.78 -197.06 
L 118.08 -197.06 
L 118.37 -197.06 
L 118.67 -197.06 
L 118.96 -197.06 
L 119.26 -197.06 
L 119.55 -197.06 
L 119.85 -197.06 
L 120.14 -197.06 
L 120.44 -197.06 
L 120.73 -197.06 
L 121.03 -197.06 
L 121.32 -197.06 
L 121.62 -197.06 
L 121.92 -197.06 
L 122.21 -197.06 
L 122.51 -197.06 
L 122.8 -197.06 
L 123.1 -197.06 
L 123.39 -197.06 
L 123.69 -197.06 
L 123.98 -197.06 
L 124.28 -197.06 
L 124.57 -197.06 
L 124.87 -197.06 
L 125.16 -197.06 
L 125.46 -197.06 
L 125.76 -197.06 
L 126.05 -197.06 
L 126.05 -197.06 
L 126.05 -197.06 
L 125.76 -197.06 
L 125.46 -197.06 
L 125.16 -197.06 
L 124.87 -197.06 
L 124.57 -197.06 
L 124.28 -197.06 
L 123.98 -197.06 
L 123.69 -197.06 
L 123.39 -197.07 
L 123.1 -197.07 
L 122.8 -197.07 
L 122.51 -197.07 
L 122.21 -197.07 
L 121.92 -197.07 
L 121.62 -197.08 
L 121.32 -197.08 
L 121.03 -197.08 
L 120.73 -197.08 
L 120.44 -197.09 
L 120.14 -197.09 
L 119.85 -197.09 
L 119.55 -197.1 
L 119.26 -197.1 
L 118.96 -197.1 
L 118.67 -197.11 
L 118.37 -197.11 
L 118.08 -197.11 
L 117.78 -197.12 
L 117.49 -197.12 
L 117.19 -197.13 
L 116.89 -197.13 
L 116.6 -197.14 
L 116.3 -197.14 
L 116.01 -197.14 
L 115.71 -197.15 
L 115.42 -197.15 
L 115.12 -197.16 
L 114.83 -197.16 
L 114.53 -197.17 
L 114.24 -197.18 
L 113.94 -197.18 
L 113.65 -197.19 
L 113.35 -197.19 
L 113.06 -197.2 
L 112.76 -197.2 
L 112.46 -197.21 
L 112.17 -197.22 
L 111.87 -197.22 
L 111.58 -197.23 
L 111.28 -197.24 
L 110.99 -197.24 
L 110.69 -197.25 
L 110.4 -197.26 
L 110.1 -197.26 
L 109.81 -197.27 
L 109.51 -197.28 
L 109.22 -197.28 
L 108.92 -197.29 
L 108.62 -197.3 
L 108.33 -197.31 
L 108.03 -197.31 
L 107.74 -197.32 
L 107.44 -197.33 
L 107.15 -197.34 
L 106.85 -197.34 
L 106.56 -197.35 
L 106.26 -197.36 
L 105.97 -197.37 
L 105.67 -197.38 
L 105.38 -197.39 
L 105.08 -197.39 
L 104.79 -197.4 
L 104.49 -197.41 
L 104.19 -197.43 
L 103.9 -197.44 
L 103.6 -197.45 
L 103.31 -197.47 
L 103.01 -197.49 
L 102.72 -197.5 
L 102.42 -197.52 
L 102.13 -197.54 
L 101.83 -197.56 
L 101.54 -197.59 
L 101.24 -197.61 
L 100.95 -197.63 
L 100.65 -197.66 
L 100.36 -197.68 
L 100.06 -197.71 
L 99.76 -197.73 
L 99.47 -197.76 
L 99.17 -197.78 
L 98.88 -197.81 
L 98.58 -197.84 
L 98.29 -197.87 
L 97.99 -197.89 
L 97.7 -197.92 
L 97.4 -197.95 
L 97.11 -197.98 
L 96.81 -198 
L 96.52 -198.03 
L 96.22 -198.06 
L 95.92 -198.08 
L 95.63 -198.11 
L 95.33 -198.14 
L 95.04 -198.16 
L 94.74 -198.19 
L 94.45 -198.21 
L 94.15 -198.23 
L 93.86 -198.26 
L 93.56 -198.28 
L 93.27 -198.31 
L 92.97 -198.34 
L 92.68 -198.36 
L 92.38 -198.39 
L 92.09 -198.42 
L 91.79 -198.45 
L 91.49 -198.49 
L 91.2 -198.52 
L 90.9 -198.55 
L 90.61 -198.58 
L 90.31 -198.6 
L 90.02 -198.63 
L 89.72 -198.66 
L 89.43 -198.69 
L 89.13 -198.71 
L 88.84 -198.73 
L 88.54 -198.75 
L 88.25 -198.77 
L 87.95 -198.79 
L 87.66 -198.8 
L 87.36 -198.81 
L 87.06 -198.82 
L 86.77 -198.82 
L 86.47 -198.82 
L 86.18 -198.82 
L 85.88 -198.82 
L 85.59 -198.81 
L 85.29 -198.8 
L 85 -198.79 
L 84.7 -198.78 
L 84.41 -198.76 
L 84.11 -198.74 
L 83.82 -198.72 
L 83.52 -198.71 
L 83.22 -198.68 
L 82.93 -198.66 
L 82.63 -198.64 
L 82.34 -198.62 
L 82.04 -198.59 
L 81.75 -198.57 
L 81.45 -198.54 
L 81.16 -198.52 
L 80.86 -198.49 
L 80.57 -198.46 
L 80.27 -198.44 
L 79.98 -198.42 
L 79.68 -198.39 
L 79.39 -198.36 
L 79.09 -198.33 
L 78.79 -198.3 
L 78.5 -198.27 
L 78.2 -198.23 
L 77.91 -198.19 
L 77.61 -198.15 
L 77.32 -198.11 
L 77.02 -198.06 
L 76.73 -198.02 
L 76.43 -197.98 
L 76.14 -197.93 
L 75.84 -197.89 
L 75.55 -197.84 
L 75.25 -197.8 
L 74.96 -197.75 
L 74.66 -197.71 
L 74.36 -197.67 
L 74.07 -197.63 
L 73.77 -197.6 
L 73.48 -197.56 
L 73.18 -197.53 
L 72.89 -197.5 
L 72.59 -197.47 
L 72.3 -197.45 
L 72 -197.42 
L 71.71 -197.41 
L 71.41 -197.39 
L 71.12 -197.38 
L 70.82 -197.37 
L 70.52 -197.36 
L 70.23 -197.35 
L 69.93 -197.34 
L 69.64 -197.33 
L 69.34 -197.32 
L 69.05 -197.31 
L 68.75 -197.3 
L 68.46 -197.29 
L 68.16 -197.28 
L 67.87 -197.27 
L 67.57 -197.26 
L 67.28 -197.25 
L 66.98 -197.24 
L 66.69 -197.23 
L 66.39 -197.22 
L 66.09 -197.22 
L 65.8 -197.21 
L 65.5 -197.2 
L 65.21 -197.19 
L 64.91 -197.18 
L 64.62 -197.18 
L 64.32 -197.17 
L 64.03 -197.16 
L 63.73 -197.16 
L 63.44 -197.15 
L 63.14 -197.14 
L 62.85 -197.14 
L 62.55 -197.13 
L 62.26 -197.13 
L 61.96 -197.12 
L 61.66 -197.11 
L 61.37 -197.11 
L 61.07 -197.1 
L 60.78 -197.1 
L 60.48 -197.1 
L 60.19 -197.09 
L 59.89 -197.09 
L 59.6 -197.08 
L 59.3 -197.08 
L 59.01 -197.08 
L 58.71 -197.07 
L 58.42 -197.07 
L 58.12 -197.07 
L 57.82 -197.07 
L 57.53 -197.07 
L 57.23 -197.06 
L 56.94 -197.06 
L 56.64 -197.06 
L 56.35 -197.06 
L 56.05 -197.06 
L 55.76 -197.06 
L 55.46 -197.06 
z
" style="stroke: #dddcdc"/>
    </defs>
    <g>
     <use href="#m8a9c5c975b" x="0" y="393.28" style="fill: #dddcdc; fill-opacity: 0.25; stroke: #dddcdc"/>
    </g>
   </g>
   <g id="FillBetweenPolyCollection_3">
    <defs>
     <path id="m2130ddfb1c" d="M 53.78 -197.06 
L 53.78 -197.06 
L 54.34 -197.06 
L 54.89 -197.06 
L 55.45 -197.06 
L 56 -197.06 
L 56.56 -197.06 
L 57.11 -197.06 
L 57.67 -197.06 
L 58.23 -197.06 
L 58.78 -197.06 
L 59.34 -197.06 
L 59.89 -197.06 
L 60.45 -197.06 
L 61 -197.06 
L 61.56 -197.06 
L 62.11 -197.06 
L 62.67 -197.06 
L 63.23 -197.06 
L 63.78 -197.06 
L 64.34 -197.06 
L 64.89 -197.06 
L 65.45 -197.06 
L 66 -197.06 
L 66.56 -197.06 
L 67.11 -197.06 
L 67.67 -197.06 
L 68.23 -197.06 
L 68.78 -197.06 
L 69.34 -197.06 
L 69.89 -197.06 
L 70.45 -197.06 
L 71 -197.06 
L 71.56 -197.06 
L 72.11 -197.06 
L 72.67 -197.06 
L 73.23 -197.06 
L 73.78 -197.06 
L 74.34 -197.06 
L 74.89 -197.06 
L 75.45 -197.06 
L 76 -197.06 
L 76.56 -197.06 
L 77.11 -197.06 
L 77.67 -197.06 
L 78.23 -197.06 
L 78.78 -197.06 
L 79.34 -197.06 
L 79.89 -197.06 
L 80.45 -197.06 
L 81 -197.06 
L 81.56 -197.06 
L 82.11 -197.06 
L 82.67 -197.06 
L 83.22 -197.06 
L 83.78 -197.06 
L 84.34 -197.06 
L 84.89 -197.06 
L 85.45 -197.06 
L 86 -197.06 
L 86.56 -197.06 
L 87.11 -197.06 
L 87.67 -197.06 
L 88.22 -197.06 
L 88.78 -197.06 
L 89.34 -197.06 
L 89.89 -197.06 
L 90.45 -197.06 
L 91 -197.06 
L 91.56 -197.06 
L 92.11 -197.06 
L 92.67 -197.06 
L 93.22 -197.06 
L 93.78 -197.06 
L 94.34 -197.06 
L 94.89 -197.06 
L 95.45 -197.06 
L 96 -197.06 
L 96.56 -197.06 
L 97.11 -197.06 
L 97.67 -197.06 
L 98.22 -197.06 
L 98.78 -197.06 
L 99.34 -197.06 
L 99.89 -197.06 
L 100.45 -197.06 
L 101 -197.06 
L 101.56 -197.06 
L 102.11 -197.06 
L 102.67 -197.06 
L 103.22 -197.06 
L 103.78 -197.06 
L 104.34 -197.06 
L 104.89 -197.06 
L 105.45 -197.06 
L 106 -197.06 
L 106.56 -197.06 
L 107.11 -197.06 
L 107.67 -197.06 
L 108.22 -197.06 
L 108.78 -197.06 
L 109.34 -197.06 
L 109.89 -197.06 
L 110.45 -197.06 
L 111 -197.06 
L 111.56 -197.06 
L 112.11 -197.06 
L 112.67 -197.06 
L 113.22 -197.06 
L 113.78 -197.06 
L 114.33 -197.06 
L 114.89 -197.06 
L 115.45 -197.06 
L 116 -197.06 
L 116.56 -197.06 
L 117.11 -197.06 
L 117.67 -197.06 
L 118.22 -197.06 
L 118.78 -197.06 
L 119.33 -197.06 
L 119.89 -197.06 
L 120.45 -197.06 
L 121 -197.06 
L 121.56 -197.06 
L 122.11 -197.06 
L 122.67 -197.06 
L 123.22 -197.06 
L 123.78 -197.06 
L 124.33 -197.06 
L 124.89 -197.06 
L 125.45 -197.06 
L 126 -197.06 
L 126.56 -197.06 
L 127.11 -197.06 
L 127.67 -197.06 
L 128.22 -197.06 
L 128.78 -197.06 
L 129.33 -197.06 
L 129.89 -197.06 
L 130.45 -197.06 
L 131 -197.06 
L 131.56 -197.06 
L 132.11 -197.06 
L 132.67 -197.06 
L 133.22 -197.06 
L 133.78 -197.06 
L 134.33 -197.06 
L 134.89 -197.06 
L 135.45 -197.06 
L 136 -197.06 
L 136.56 -197.06 
L 137.11 -197.06 
L 137.67 -197.06 
L 138.22 -197.06 
L 138.78 -197.06 
L 139.33 -197.06 
L 139.89 -197.06 
L 140.45 -197.06 
L 141 -197.06 
L 141.56 -197.06 
L 142.11 -197.06 
L 142.67 -197.06 
L 143.22 -197.06 
L 143.78 -197.06 
L 144.33 -197.06 
L 144.89 -197.06 
L 145.44 -197.06 
L 146 -197.06 
L 146.56 -197.06 
L 147.11 -197.06 
L 147.67 -197.06 
L 148.22 -197.06 
L 148.78 -197.06 
L 149.33 -197.06 
L 149.89 -197.06 
L 150.44 -197.06 
L 151 -197.06 
L 151.56 -197.06 
L 152.11 -197.06 
L 152.67 -197.06 
L 153.22 -197.06 
L 153.78 -197.06 
L 154.33 -197.06 
L 154.89 -197.06 
L 155.44 -197.06 
L 156 -197.06 
L 156.56 -197.06 
L 157.11 -197.06 
L 157.67 -197.06 
L 158.22 -197.06 
L 158.78 -197.06 
L 159.33 -197.06 
L 159.89 -197.06 
L 160.44 -197.06 
L 161 -197.06 
L 161.56 -197.06 
L 162.11 -197.06 
L 162.67 -197.06 
L 163.22 -197.06 
L 163.78 -197.06 
L 164.33 -197.06 
L 164.89 -197.06 
L 165.44 -197.06 
L 166 -197.06 
L 166.56 -197.06 
L 167.11 -197.06 
L 167.67 -197.06 
L 168.22 -197.06 
L 168.78 -197.06 
L 169.33 -197.06 
L 169.89 -197.06 
L 170.44 -197.06 
L 171 -197.06 
L 171.56 -197.06 
L 172.11 -197.06 
L 172.67 -197.06 
L 173.22 -197.06 
L 173.78 -197.06 
L 174.33 -197.06 
L 174.89 -197.06 
L 175.44 -197.06 
L 176 -197.06 
L 176.55 -197.06 
L 177.11 -197.06 
L 177.67 -197.06 
L 178.22 -197.06 
L 178.78 -197.06 
L 179.33 -197.06 
L 179.89 -197.06 
L 180.44 -197.06 
L 181 -197.06 
L 181.55 -197.06 
L 182.11 -197.06 
L 182.67 -197.06 
L 183.22 -197.06 
L 183.78 -197.06 
L 184.33 -197.06 
L 184.89 -197.06 
L 185.44 -197.06 
L 186 -197.06 
L 186.55 -197.06 
L 186.55 -197.06 
L 186.55 -197.06 
L 186 -197.09 
L 185.44 -197.12 
L 184.89 -197.16 
L 184.33 -197.19 
L 183.78 -197.24 
L 183.22 -197.28 
L 182.67 -197.33 
L 182.11 -197.38 
L 181.55 -197.43 
L 181 -197.49 
L 180.44 -197.55 
L 179.89 -197.6 
L 179.33 -197.67 
L 178.78 -197.73 
L 178.22 -197.8 
L 177.67 -197.88 
L 177.11 -197.96 
L 176.55 -198.04 
L 176 -198.13 
L 175.44 -198.23 
L 174.89 -198.32 
L 174.33 -198.42 
L 173.78 -198.52 
L 173.22 -198.62 
L 172.67 -198.72 
L 172.11 -198.83 
L 171.56 -198.93 
L 171 -199.04 
L 170.44 -199.14 
L 169.89 -199.24 
L 169.33 -199.34 
L 168.78 -199.43 
L 168.22 -199.53 
L 167.67 -199.62 
L 167.11 -199.72 
L 166.56 -199.82 
L 166 -199.93 
L 165.44 -200.04 
L 164.89 -200.16 
L 164.33 -200.29 
L 163.78 -200.44 
L 163.22 -200.59 
L 162.67 -200.76 
L 162.11 -200.97 
L 161.56 -201.22 
L 161 -201.51 
L 160.44 -201.83 
L 159.89 -202.19 
L 159.33 -202.57 
L 158.78 -202.96 
L 158.22 -203.37 
L 157.67 -203.78 
L 157.11 -204.19 
L 156.56 -204.6 
L 156 -205.03 
L 155.44 -205.5 
L 154.89 -206 
L 154.33 -206.51 
L 153.78 -207.03 
L 153.22 -207.55 
L 152.67 -208.04 
L 152.11 -208.52 
L 151.56 -208.95 
L 151 -209.34 
L 150.44 -209.76 
L 149.89 -210.2 
L 149.33 -210.62 
L 148.78 -211.02 
L 148.22 -211.36 
L 147.67 -211.63 
L 147.11 -211.8 
L 146.56 -211.85 
L 146 -211.82 
L 145.44 -211.77 
L 144.89 -211.68 
L 144.33 -211.58 
L 143.78 -211.46 
L 143.22 -211.34 
L 142.67 -211.21 
L 142.11 -211.09 
L 141.56 -210.96 
L 141 -210.8 
L 140.45 -210.61 
L 139.89 -210.42 
L 139.33 -210.24 
L 138.78 -210.09 
L 138.22 -209.98 
L 137.67 -209.92 
L 137.11 -209.93 
L 136.56 -210.01 
L 136 -210.15 
L 135.45 -210.35 
L 134.89 -210.59 
L 134.33 -210.87 
L 133.78 -211.18 
L 133.22 -211.52 
L 132.67 -211.87 
L 132.11 -212.23 
L 131.56 -212.67 
L 131 -213.2 
L 130.45 -213.83 
L 129.89 -214.54 
L 129.33 -215.34 
L 128.78 -216.2 
L 128.22 -217.14 
L 127.67 -218.13 
L 127.11 -219.22 
L 126.56 -220.52 
L 126 -222 
L 125.45 -223.64 
L 124.89 -225.41 
L 124.33 -227.29 
L 123.78 -229.25 
L 123.22 -231.28 
L 122.67 -233.4 
L 122.11 -235.75 
L 121.56 -238.31 
L 121 -241.01 
L 120.45 -243.82 
L 119.89 -246.67 
L 119.33 -249.53 
L 118.78 -252.35 
L 118.22 -255.19 
L 117.67 -258.14 
L 117.11 -261.28 
L 116.56 -264.69 
L 116 -268.39 
L 115.45 -272.32 
L 114.89 -276.4 
L 114.33 -280.54 
L 113.78 -284.67 
L 113.22 -288.91 
L 112.67 -293.27 
L 112.11 -297.69 
L 111.56 -302.08 
L 111 -306.36 
L 110.45 -310.51 
L 109.89 -314.75 
L 109.34 -318.75 
L 108.78 -322.08 
L 108.22 -324.77 
L 107.67 -327.12 
L 107.11 -329.26 
L 106.56 -331.28 
L 106 -333.34 
L 105.45 -335.4 
L 104.89 -337.29 
L 104.34 -338.81 
L 103.78 -339.84 
L 103.22 -340.73 
L 102.67 -341.49 
L 102.11 -342.01 
L 101.56 -342.18 
L 101 -342.04 
L 100.45 -341.68 
L 99.89 -341.13 
L 99.34 -340.45 
L 98.78 -339.67 
L 98.22 -338.83 
L 97.67 -337.98 
L 97.11 -337.15 
L 96.56 -336.39 
L 96 -335.56 
L 95.45 -334.56 
L 94.89 -333.51 
L 94.34 -332.52 
L 93.78 -331.7 
L 93.22 -331.16 
L 92.67 -331.01 
L 92.11 -331.18 
L 91.56 -331.53 
L 91 -332.01 
L 90.45 -332.57 
L 89.89 -333.15 
L 89.34 -333.68 
L 88.78 -334.12 
L 88.22 -334.42 
L 87.67 -334.7 
L 87.11 -334.97 
L 86.56 -335.17 
L 86 -335.28 
L 85.45 -335.21 
L 84.89 -334.79 
L 84.34 -334.06 
L 83.78 -333.11 
L 83.22 -332.01 
L 82.67 -330.66 
L 82.11 -328.54 
L 81.56 -325.82 
L 81 -322.26 
L 80.45 -317.44 
L 79.89 -312.33 
L 79.34 -307.63 
L 78.78 -302.94 
L 78.23 -298.25 
L 77.67 -293.6 
L 77.11 -288.98 
L 76.56 -284.39 
L 76 -279.81 
L 75.45 -275.21 
L 74.89 -270.58 
L 74.34 -265.9 
L 73.78 -261.14 
L 73.23 -256.13 
L 72.67 -250.91 
L 72.11 -245.62 
L 71.56 -240.38 
L 71 -235.35 
L 70.45 -230.63 
L 69.89 -226.38 
L 69.34 -222.66 
L 68.78 -219.33 
L 68.23 -216.38 
L 67.67 -213.8 
L 67.11 -211.54 
L 66.56 -209.56 
L 66 -207.75 
L 65.45 -206.1 
L 64.89 -204.68 
L 64.34 -203.5 
L 63.78 -202.44 
L 63.23 -201.52 
L 62.67 -200.75 
L 62.11 -200.11 
L 61.56 -199.55 
L 61 -199.06 
L 60.45 -198.66 
L 59.89 -198.33 
L 59.34 -198.04 
L 58.78 -197.79 
L 58.23 -197.58 
L 57.67 -197.43 
L 57.11 -197.34 
L 56.56 -197.26 
L 56 -197.2 
L 55.45 -197.14 
L 54.89 -197.1 
L 54.34 -197.07 
L 53.78 -197.06 
z
" style="stroke: #8aa2e2"/>
    </defs>
    <g>
     <use href="#m2130ddfb1c" x="0" y="393.28" style="fill: #80a8f8; fill-opacity: 0.25; stroke: #8aa2e2"/>
    </g>
   </g>
   <g id="matplotlib.axis_9"/>
  </g>
  <g id="axes_6">
   <g id="FillBetweenPolyCollection_4">
    <defs>
     <path id="m43e4739e0a" d="M 207.82 -37.39 
L 207.82 -37.39 
L 208.38 -37.39 
L 208.94 -37.39 
L 209.5 -37.39 
L 210.07 -37.39 
L 210.63 -37.39 
L 211.19 -37.39 
L 211.75 -37.39 
L 212.32 -37.39 
L 212.88 -37.39 
L 213.44 -37.39 
L 214 -37.39 
L 214.57 -37.39 
L 215.13 -37.39 
L 215.69 -37.39 
L 216.25 -37.39 
L 216.82 -37.39 
L 217.38 -37.39 
L 217.94 -37.39 
L 218.5 -37.39 
L 219.07 -37.39 
L 219.63 -37.39 
L 220.19 -37.39 
L 220.75 -37.39 
L 221.32 -37.39 
L 221.88 -37.39 
L 222.44 -37.39 
L 223 -37.39 
L 223.57 -37.39 
L 224.13 -37.39 
L 224.69 -37.39 
L 225.25 -37.39 
L 225.82 -37.39 
L 226.38 -37.39 
L 226.94 -37.39 
L 227.51 -37.39 
L 228.07 -37.39 
L 228.63 -37.39 
L 229.19 -37.39 
L 229.76 -37.39 
L 230.32 -37.39 
L 230.88 -37.39 
L 231.44 -37.39 
L 232.01 -37.39 
L 232.57 -37.39 
L 233.13 -37.39 
L 233.69 -37.39 
L 234.26 -37.39 
L 234.82 -37.39 
L 235.38 -37.39 
L 235.94 -37.39 
L 236.51 -37.39 
L 237.07 -37.39 
L 237.63 -37.39 
L 238.19 -37.39 
L 238.76 -37.39 
L 239.32 -37.39 
L 239.88 -37.39 
L 240.44 -37.39 
L 241.01 -37.39 
L 241.57 -37.39 
L 242.13 -37.39 
L 242.69 -37.39 
L 243.26 -37.39 
L 243.82 -37.39 
L 244.38 -37.39 
L 244.94 -37.39 
L 245.51 -37.39 
L 246.07 -37.39 
L 246.63 -37.39 
L 247.19 -37.39 
L 247.76 -37.39 
L 248.32 -37.39 
L 248.88 -37.39 
L 249.45 -37.39 
L 250.01 -37.39 
L 250.57 -37.39 
L 251.13 -37.39 
L 251.7 -37.39 
L 252.26 -37.39 
L 252.82 -37.39 
L 253.38 -37.39 
L 253.95 -37.39 
L 254.51 -37.39 
L 255.07 -37.39 
L 255.63 -37.39 
L 256.2 -37.39 
L 256.76 -37.39 
L 257.32 -37.39 
L 257.88 -37.39 
L 258.45 -37.39 
L 259.01 -37.39 
L 259.57 -37.39 
L 260.13 -37.39 
L 260.7 -37.39 
L 261.26 -37.39 
L 261.82 -37.39 
L 262.38 -37.39 
L 262.95 -37.39 
L 263.51 -37.39 
L 264.07 -37.39 
L 264.63 -37.39 
L 265.2 -37.39 
L 265.76 -37.39 
L 266.32 -37.39 
L 266.88 -37.39 
L 267.45 -37.39 
L 268.01 -37.39 
L 268.57 -37.39 
L 269.14 -37.39 
L 269.7 -37.39 
L 270.26 -37.39 
L 270.82 -37.39 
L 271.39 -37.39 
L 271.95 -37.39 
L 272.51 -37.39 
L 273.07 -37.39 
L 273.64 -37.39 
L 274.2 -37.39 
L 274.76 -37.39 
L 275.32 -37.39 
L 275.89 -37.39 
L 276.45 -37.39 
L 277.01 -37.39 
L 277.57 -37.39 
L 278.14 -37.39 
L 278.7 -37.39 
L 279.26 -37.39 
L 279.82 -37.39 
L 280.39 -37.39 
L 280.95 -37.39 
L 281.51 -37.39 
L 282.07 -37.39 
L 282.64 -37.39 
L 283.2 -37.39 
L 283.76 -37.39 
L 284.32 -37.39 
L 284.89 -37.39 
L 285.45 -37.39 
L 286.01 -37.39 
L 286.57 -37.39 
L 287.14 -37.39 
L 287.7 -37.39 
L 288.26 -37.39 
L 288.82 -37.39 
L 289.39 -37.39 
L 289.95 -37.39 
L 290.51 -37.39 
L 291.08 -37.39 
L 291.64 -37.39 
L 292.2 -37.39 
L 292.76 -37.39 
L 293.33 -37.39 
L 293.89 -37.39 
L 294.45 -37.39 
L 295.01 -37.39 
L 295.58 -37.39 
L 296.14 -37.39 
L 296.7 -37.39 
L 297.26 -37.39 
L 297.83 -37.39 
L 298.39 -37.39 
L 298.95 -37.39 
L 299.51 -37.39 
L 300.08 -37.39 
L 300.64 -37.39 
L 301.2 -37.39 
L 301.76 -37.39 
L 302.33 -37.39 
L 302.89 -37.39 
L 303.45 -37.39 
L 304.01 -37.39 
L 304.58 -37.39 
L 305.14 -37.39 
L 305.7 -37.39 
L 306.26 -37.39 
L 306.83 -37.39 
L 307.39 -37.39 
L 307.95 -37.39 
L 308.51 -37.39 
L 309.08 -37.39 
L 309.64 -37.39 
L 310.2 -37.39 
L 310.77 -37.39 
L 311.33 -37.39 
L 311.89 -37.39 
L 312.45 -37.39 
L 313.02 -37.39 
L 313.58 -37.39 
L 314.14 -37.39 
L 314.7 -37.39 
L 315.27 -37.39 
L 315.83 -37.39 
L 316.39 -37.39 
L 316.95 -37.39 
L 317.52 -37.39 
L 318.08 -37.39 
L 318.64 -37.39 
L 319.2 -37.39 
L 319.77 -37.39 
L 320.33 -37.39 
L 320.89 -37.39 
L 321.45 -37.39 
L 322.02 -37.39 
L 322.58 -37.39 
L 323.14 -37.39 
L 323.7 -37.39 
L 324.27 -37.39 
L 324.83 -37.39 
L 325.39 -37.39 
L 325.95 -37.39 
L 326.52 -37.39 
L 327.08 -37.39 
L 327.64 -37.39 
L 328.2 -37.39 
L 328.77 -37.39 
L 329.33 -37.39 
L 329.89 -37.39 
L 330.45 -37.39 
L 331.02 -37.39 
L 331.58 -37.39 
L 332.14 -37.39 
L 332.71 -37.39 
L 333.27 -37.39 
L 333.83 -37.39 
L 334.39 -37.39 
L 334.96 -37.39 
L 335.52 -37.39 
L 336.08 -37.39 
L 336.64 -37.39 
L 337.21 -37.39 
L 337.77 -37.39 
L 338.33 -37.39 
L 338.89 -37.39 
L 339.46 -37.39 
L 340.02 -37.39 
L 340.58 -37.39 
L 341.14 -37.39 
L 341.71 -37.39 
L 342.27 -37.39 
L 342.27 -37.39 
L 342.27 -37.39 
L 341.71 -37.4 
L 341.14 -37.4 
L 340.58 -37.4 
L 340.02 -37.41 
L 339.46 -37.41 
L 338.89 -37.42 
L 338.33 -37.43 
L 337.77 -37.44 
L 337.21 -37.45 
L 336.64 -37.46 
L 336.08 -37.47 
L 335.52 -37.48 
L 334.96 -37.49 
L 334.39 -37.51 
L 333.83 -37.52 
L 333.27 -37.53 
L 332.71 -37.54 
L 332.14 -37.56 
L 331.58 -37.57 
L 331.02 -37.59 
L 330.45 -37.6 
L 329.89 -37.62 
L 329.33 -37.64 
L 328.77 -37.66 
L 328.2 -37.69 
L 327.64 -37.71 
L 327.08 -37.74 
L 326.52 -37.76 
L 325.95 -37.79 
L 325.39 -37.82 
L 324.83 -37.85 
L 324.27 -37.88 
L 323.7 -37.91 
L 323.14 -37.95 
L 322.58 -37.99 
L 322.02 -38.03 
L 321.45 -38.07 
L 320.89 -38.11 
L 320.33 -38.16 
L 319.77 -38.21 
L 319.2 -38.26 
L 318.64 -38.31 
L 318.08 -38.37 
L 317.52 -38.43 
L 316.95 -38.49 
L 316.39 -38.55 
L 315.83 -38.61 
L 315.27 -38.67 
L 314.7 -38.74 
L 314.14 -38.81 
L 313.58 -38.88 
L 313.02 -38.96 
L 312.45 -39.04 
L 311.89 -39.13 
L 311.33 -39.22 
L 310.77 -39.32 
L 310.2 -39.41 
L 309.64 -39.52 
L 309.08 -39.62 
L 308.51 -39.73 
L 307.95 -39.84 
L 307.39 -39.95 
L 306.83 -40.07 
L 306.26 -40.2 
L 305.7 -40.34 
L 305.14 -40.49 
L 304.58 -40.65 
L 304.01 -40.82 
L 303.45 -40.99 
L 302.89 -41.15 
L 302.33 -41.32 
L 301.76 -41.48 
L 301.2 -41.63 
L 300.64 -41.77 
L 300.08 -41.9 
L 299.51 -42.01 
L 298.95 -42.12 
L 298.39 -42.23 
L 297.83 -42.34 
L 297.26 -42.45 
L 296.7 -42.56 
L 296.14 -42.66 
L 295.58 -42.76 
L 295.01 -42.85 
L 294.45 -42.92 
L 293.89 -42.99 
L 293.33 -43.05 
L 292.76 -43.08 
L 292.2 -43.11 
L 291.64 -43.11 
L 291.08 -43.09 
L 290.51 -43.06 
L 289.95 -43.01 
L 289.39 -42.95 
L 288.82 -42.88 
L 288.26 -42.8 
L 287.7 -42.71 
L 287.14 -42.62 
L 286.57 -42.53 
L 286.01 -42.44 
L 285.45 -42.36 
L 284.89 -42.27 
L 284.32 -42.2 
L 283.76 -42.13 
L 283.2 -42.05 
L 282.64 -41.96 
L 282.07 -41.88 
L 281.51 -41.79 
L 280.95 -41.7 
L 280.39 -41.61 
L 279.82 -41.53 
L 279.26 -41.45 
L 278.7 -41.39 
L 278.14 -41.33 
L 277.57 -41.29 
L 277.01 -41.27 
L 276.45 -41.26 
L 275.89 -41.27 
L 275.32 -41.3 
L 274.76 -41.33 
L 274.2 -41.38 
L 273.64 -41.44 
L 273.07 -41.51 
L 272.51 -41.59 
L 271.95 -41.68 
L 271.39 -41.77 
L 270.82 -41.86 
L 270.26 -41.97 
L 269.7 -42.07 
L 269.14 -42.17 
L 268.57 -42.29 
L 268.01 -42.43 
L 267.45 -42.6 
L 266.88 -42.79 
L 266.32 -42.99 
L 265.76 -43.21 
L 265.2 -43.45 
L 264.63 -43.69 
L 264.07 -43.94 
L 263.51 -44.19 
L 262.95 -44.45 
L 262.38 -44.7 
L 261.82 -44.96 
L 261.26 -45.24 
L 260.7 -45.55 
L 260.13 -45.88 
L 259.57 -46.22 
L 259.01 -46.57 
L 258.45 -46.91 
L 257.88 -47.24 
L 257.32 -47.56 
L 256.76 -47.86 
L 256.2 -48.13 
L 255.63 -48.37 
L 255.07 -48.56 
L 254.51 -48.75 
L 253.95 -48.95 
L 253.38 -49.14 
L 252.82 -49.32 
L 252.26 -49.5 
L 251.7 -49.66 
L 251.13 -49.8 
L 250.57 -49.93 
L 250.01 -50.03 
L 249.45 -50.11 
L 248.88 -50.16 
L 248.32 -50.17 
L 247.76 -50.16 
L 247.19 -50.13 
L 246.63 -50.09 
L 246.07 -50.04 
L 245.51 -49.97 
L 244.94 -49.9 
L 244.38 -49.82 
L 243.82 -49.73 
L 243.26 -49.63 
L 242.69 -49.53 
L 242.13 -49.39 
L 241.57 -49.2 
L 241.01 -48.98 
L 240.44 -48.73 
L 239.88 -48.45 
L 239.32 -48.16 
L 238.76 -47.85 
L 238.19 -47.54 
L 237.63 -47.23 
L 237.07 -46.91 
L 236.51 -46.54 
L 235.94 -46.15 
L 235.38 -45.72 
L 234.82 -45.27 
L 234.26 -44.8 
L 233.69 -44.33 
L 233.13 -43.85 
L 232.57 -43.37 
L 232.01 -42.91 
L 231.44 -42.45 
L 230.88 -42.03 
L 230.32 -41.63 
L 229.76 -41.26 
L 229.19 -40.94 
L 228.63 -40.65 
L 228.07 -40.37 
L 227.51 -40.11 
L 226.94 -39.85 
L 226.38 -39.62 
L 225.82 -39.4 
L 225.25 -39.19 
L 224.69 -39.01 
L 224.13 -38.84 
L 223.57 -38.67 
L 223 -38.52 
L 222.44 -38.37 
L 221.88 -38.23 
L 221.32 -38.1 
L 220.75 -37.99 
L 220.19 -37.89 
L 219.63 -37.82 
L 219.07 -37.76 
L 218.5 -37.7 
L 217.94 -37.65 
L 217.38 -37.6 
L 216.82 -37.55 
L 216.25 -37.51 
L 215.69 -37.48 
L 215.13 -37.46 
L 214.57 -37.44 
L 214 -37.43 
L 213.44 -37.43 
L 212.88 -37.42 
L 212.32 -37.42 
L 211.75 -37.41 
L 211.19 -37.41 
L 210.63 -37.4 
L 210.07 -37.4 
L 209.5 -37.4 
L 208.94 -37.4 
L 208.38 -37.4 
L 207.82 -37.39 
z
" style="stroke: #eea08a"/>
    </defs>
    <g>
     <use href="#m43e4739e0a" x="0" y="393.28" style="fill: #f08c6c; fill-opacity: 0.25; stroke: #eea08a"/>
    </g>
   </g>
   <g id="FillBetweenPolyCollection_5">
    <defs>
     <path id="mbaf75c7881" d="M 223.53 -37.39 
L 223.53 -37.39 
L 223.81 -37.39 
L 224.08 -37.39 
L 224.36 -37.39 
L 224.64 -37.39 
L 224.92 -37.39 
L 225.2 -37.39 
L 225.47 -37.39 
L 225.75 -37.39 
L 226.03 -37.39 
L 226.31 -37.39 
L 226.58 -37.39 
L 226.86 -37.39 
L 227.14 -37.39 
L 227.42 -37.39 
L 227.7 -37.39 
L 227.97 -37.39 
L 228.25 -37.39 
L 228.53 -37.39 
L 228.81 -37.39 
L 229.08 -37.39 
L 229.36 -37.39 
L 229.64 -37.39 
L 229.92 -37.39 
L 230.2 -37.39 
L 230.47 -37.39 
L 230.75 -37.39 
L 231.03 -37.39 
L 231.31 -37.39 
L 231.58 -37.39 
L 231.86 -37.39 
L 232.14 -37.39 
L 232.42 -37.39 
L 232.7 -37.39 
L 232.97 -37.39 
L 233.25 -37.39 
L 233.53 -37.39 
L 233.81 -37.39 
L 234.08 -37.39 
L 234.36 -37.39 
L 234.64 -37.39 
L 234.92 -37.39 
L 235.2 -37.39 
L 235.47 -37.39 
L 235.75 -37.39 
L 236.03 -37.39 
L 236.31 -37.39 
L 236.58 -37.39 
L 236.86 -37.39 
L 237.14 -37.39 
L 237.42 -37.39 
L 237.7 -37.39 
L 237.97 -37.39 
L 238.25 -37.39 
L 238.53 -37.39 
L 238.81 -37.39 
L 239.08 -37.39 
L 239.36 -37.39 
L 239.64 -37.39 
L 239.92 -37.39 
L 240.2 -37.39 
L 240.47 -37.39 
L 240.75 -37.39 
L 241.03 -37.39 
L 241.31 -37.39 
L 241.58 -37.39 
L 241.86 -37.39 
L 242.14 -37.39 
L 242.42 -37.39 
L 242.7 -37.39 
L 242.97 -37.39 
L 243.25 -37.39 
L 243.53 -37.39 
L 243.81 -37.39 
L 244.08 -37.39 
L 244.36 -37.39 
L 244.64 -37.39 
L 244.92 -37.39 
L 245.2 -37.39 
L 245.47 -37.39 
L 245.75 -37.39 
L 246.03 -37.39 
L 246.31 -37.39 
L 246.58 -37.39 
L 246.86 -37.39 
L 247.14 -37.39 
L 247.42 -37.39 
L 247.7 -37.39 
L 247.97 -37.39 
L 248.25 -37.39 
L 248.53 -37.39 
L 248.81 -37.39 
L 249.08 -37.39 
L 249.36 -37.39 
L 249.64 -37.39 
L 249.92 -37.39 
L 250.2 -37.39 
L 250.47 -37.39 
L 250.75 -37.39 
L 251.03 -37.39 
L 251.31 -37.39 
L 251.58 -37.39 
L 251.86 -37.39 
L 252.14 -37.39 
L 252.42 -37.39 
L 252.7 -37.39 
L 252.97 -37.39 
L 253.25 -37.39 
L 253.53 -37.39 
L 253.81 -37.39 
L 254.08 -37.39 
L 254.36 -37.39 
L 254.64 -37.39 
L 254.92 -37.39 
L 255.19 -37.39 
L 255.47 -37.39 
L 255.75 -37.39 
L 256.03 -37.39 
L 256.31 -37.39 
L 256.58 -37.39 
L 256.86 -37.39 
L 257.14 -37.39 
L 257.42 -37.39 
L 257.69 -37.39 
L 257.97 -37.39 
L 258.25 -37.39 
L 258.53 -37.39 
L 258.81 -37.39 
L 259.08 -37.39 
L 259.36 -37.39 
L 259.64 -37.39 
L 259.92 -37.39 
L 260.19 -37.39 
L 260.47 -37.39 
L 260.75 -37.39 
L 261.03 -37.39 
L 261.31 -37.39 
L 261.58 -37.39 
L 261.86 -37.39 
L 262.14 -37.39 
L 262.42 -37.39 
L 262.69 -37.39 
L 262.97 -37.39 
L 263.25 -37.39 
L 263.53 -37.39 
L 263.81 -37.39 
L 264.08 -37.39 
L 264.36 -37.39 
L 264.64 -37.39 
L 264.92 -37.39 
L 265.19 -37.39 
L 265.47 -37.39 
L 265.75 -37.39 
L 266.03 -37.39 
L 266.31 -37.39 
L 266.58 -37.39 
L 266.86 -37.39 
L 267.14 -37.39 
L 267.42 -37.39 
L 267.69 -37.39 
L 267.97 -37.39 
L 268.25 -37.39 
L 268.53 -37.39 
L 268.81 -37.39 
L 269.08 -37.39 
L 269.36 -37.39 
L 269.64 -37.39 
L 269.92 -37.39 
L 270.19 -37.39 
L 270.47 -37.39 
L 270.75 -37.39 
L 271.03 -37.39 
L 271.31 -37.39 
L 271.58 -37.39 
L 271.86 -37.39 
L 272.14 -37.39 
L 272.42 -37.39 
L 272.69 -37.39 
L 272.97 -37.39 
L 273.25 -37.39 
L 273.53 -37.39 
L 273.81 -37.39 
L 274.08 -37.39 
L 274.36 -37.39 
L 274.64 -37.39 
L 274.92 -37.39 
L 275.19 -37.39 
L 275.47 -37.39 
L 275.75 -37.39 
L 276.03 -37.39 
L 276.31 -37.39 
L 276.58 -37.39 
L 276.86 -37.39 
L 277.14 -37.39 
L 277.42 -37.39 
L 277.69 -37.39 
L 277.97 -37.39 
L 278.25 -37.39 
L 278.53 -37.39 
L 278.81 -37.39 
L 279.08 -37.39 
L 279.36 -37.39 
L 279.64 -37.39 
L 279.92 -37.39 
L 280.19 -37.39 
L 280.47 -37.39 
L 280.75 -37.39 
L 281.03 -37.39 
L 281.31 -37.39 
L 281.58 -37.39 
L 281.86 -37.39 
L 282.14 -37.39 
L 282.42 -37.39 
L 282.69 -37.39 
L 282.97 -37.39 
L 283.25 -37.39 
L 283.53 -37.39 
L 283.81 -37.39 
L 284.08 -37.39 
L 284.36 -37.39 
L 284.64 -37.39 
L 284.92 -37.39 
L 285.19 -37.39 
L 285.47 -37.39 
L 285.75 -37.39 
L 286.03 -37.39 
L 286.3 -37.39 
L 286.58 -37.39 
L 286.86 -37.39 
L 287.14 -37.39 
L 287.42 -37.39 
L 287.69 -37.39 
L 287.97 -37.39 
L 288.25 -37.39 
L 288.53 -37.39 
L 288.8 -37.39 
L 289.08 -37.39 
L 289.36 -37.39 
L 289.64 -37.39 
L 289.92 -37.39 
L 289.92 -37.39 
L 289.92 -37.39 
L 289.64 -37.4 
L 289.36 -37.4 
L 289.08 -37.4 
L 288.8 -37.4 
L 288.53 -37.4 
L 288.25 -37.4 
L 287.97 -37.4 
L 287.69 -37.4 
L 287.42 -37.4 
L 287.14 -37.4 
L 286.86 -37.41 
L 286.58 -37.41 
L 286.3 -37.41 
L 286.03 -37.41 
L 285.75 -37.41 
L 285.47 -37.42 
L 285.19 -37.42 
L 284.92 -37.42 
L 284.64 -37.42 
L 284.36 -37.43 
L 284.08 -37.43 
L 283.81 -37.43 
L 283.53 -37.44 
L 283.25 -37.44 
L 282.97 -37.44 
L 282.69 -37.45 
L 282.42 -37.45 
L 282.14 -37.46 
L 281.86 -37.46 
L 281.58 -37.47 
L 281.31 -37.47 
L 281.03 -37.47 
L 280.75 -37.48 
L 280.47 -37.48 
L 280.19 -37.49 
L 279.92 -37.49 
L 279.64 -37.5 
L 279.36 -37.5 
L 279.08 -37.51 
L 278.81 -37.51 
L 278.53 -37.52 
L 278.25 -37.53 
L 277.97 -37.53 
L 277.69 -37.54 
L 277.42 -37.54 
L 277.14 -37.55 
L 276.86 -37.56 
L 276.58 -37.56 
L 276.31 -37.57 
L 276.03 -37.57 
L 275.75 -37.58 
L 275.47 -37.59 
L 275.19 -37.59 
L 274.92 -37.6 
L 274.64 -37.61 
L 274.36 -37.62 
L 274.08 -37.62 
L 273.81 -37.63 
L 273.53 -37.64 
L 273.25 -37.64 
L 272.97 -37.65 
L 272.69 -37.66 
L 272.42 -37.67 
L 272.14 -37.68 
L 271.86 -37.69 
L 271.58 -37.7 
L 271.31 -37.72 
L 271.03 -37.73 
L 270.75 -37.75 
L 270.47 -37.77 
L 270.19 -37.78 
L 269.92 -37.8 
L 269.64 -37.82 
L 269.36 -37.84 
L 269.08 -37.86 
L 268.81 -37.89 
L 268.53 -37.91 
L 268.25 -37.93 
L 267.97 -37.95 
L 267.69 -37.98 
L 267.42 -38 
L 267.14 -38.03 
L 266.86 -38.05 
L 266.58 -38.08 
L 266.31 -38.1 
L 266.03 -38.13 
L 265.75 -38.16 
L 265.47 -38.18 
L 265.19 -38.21 
L 264.92 -38.24 
L 264.64 -38.27 
L 264.36 -38.29 
L 264.08 -38.32 
L 263.81 -38.35 
L 263.53 -38.37 
L 263.25 -38.4 
L 262.97 -38.43 
L 262.69 -38.45 
L 262.42 -38.48 
L 262.14 -38.51 
L 261.86 -38.53 
L 261.58 -38.56 
L 261.31 -38.58 
L 261.03 -38.61 
L 260.75 -38.63 
L 260.47 -38.66 
L 260.19 -38.68 
L 259.92 -38.71 
L 259.64 -38.74 
L 259.36 -38.77 
L 259.08 -38.8 
L 258.81 -38.83 
L 258.53 -38.86 
L 258.25 -38.89 
L 257.97 -38.92 
L 257.69 -38.96 
L 257.42 -38.99 
L 257.14 -39.02 
L 256.86 -39.06 
L 256.58 -39.09 
L 256.31 -39.13 
L 256.03 -39.16 
L 255.75 -39.19 
L 255.47 -39.22 
L 255.19 -39.26 
L 254.92 -39.29 
L 254.64 -39.32 
L 254.36 -39.35 
L 254.08 -39.38 
L 253.81 -39.4 
L 253.53 -39.43 
L 253.25 -39.45 
L 252.97 -39.47 
L 252.7 -39.49 
L 252.42 -39.51 
L 252.14 -39.53 
L 251.86 -39.54 
L 251.58 -39.56 
L 251.31 -39.57 
L 251.03 -39.57 
L 250.75 -39.58 
L 250.47 -39.58 
L 250.2 -39.58 
L 249.92 -39.58 
L 249.64 -39.57 
L 249.36 -39.57 
L 249.08 -39.56 
L 248.81 -39.56 
L 248.53 -39.55 
L 248.25 -39.54 
L 247.97 -39.53 
L 247.7 -39.52 
L 247.42 -39.5 
L 247.14 -39.49 
L 246.86 -39.48 
L 246.58 -39.46 
L 246.31 -39.44 
L 246.03 -39.43 
L 245.75 -39.41 
L 245.47 -39.39 
L 245.2 -39.37 
L 244.92 -39.35 
L 244.64 -39.33 
L 244.36 -39.31 
L 244.08 -39.29 
L 243.81 -39.27 
L 243.53 -39.25 
L 243.25 -39.22 
L 242.97 -39.2 
L 242.7 -39.18 
L 242.42 -39.15 
L 242.14 -39.13 
L 241.86 -39.11 
L 241.58 -39.08 
L 241.31 -39.06 
L 241.03 -39.04 
L 240.75 -39.01 
L 240.47 -38.99 
L 240.2 -38.97 
L 239.92 -38.94 
L 239.64 -38.92 
L 239.36 -38.9 
L 239.08 -38.87 
L 238.81 -38.84 
L 238.53 -38.82 
L 238.25 -38.79 
L 237.97 -38.75 
L 237.7 -38.72 
L 237.42 -38.68 
L 237.14 -38.65 
L 236.86 -38.61 
L 236.58 -38.57 
L 236.31 -38.53 
L 236.03 -38.49 
L 235.75 -38.45 
L 235.47 -38.41 
L 235.2 -38.37 
L 234.92 -38.32 
L 234.64 -38.28 
L 234.36 -38.24 
L 234.08 -38.2 
L 233.81 -38.16 
L 233.53 -38.11 
L 233.25 -38.07 
L 232.97 -38.03 
L 232.7 -37.99 
L 232.42 -37.95 
L 232.14 -37.91 
L 231.86 -37.88 
L 231.58 -37.84 
L 231.31 -37.81 
L 231.03 -37.77 
L 230.75 -37.74 
L 230.47 -37.71 
L 230.2 -37.68 
L 229.92 -37.66 
L 229.64 -37.63 
L 229.36 -37.61 
L 229.08 -37.59 
L 228.81 -37.58 
L 228.53 -37.56 
L 228.25 -37.55 
L 227.97 -37.53 
L 227.7 -37.52 
L 227.42 -37.51 
L 227.14 -37.5 
L 226.86 -37.48 
L 226.58 -37.47 
L 226.31 -37.46 
L 226.03 -37.45 
L 225.75 -37.44 
L 225.47 -37.43 
L 225.2 -37.42 
L 224.92 -37.42 
L 224.64 -37.41 
L 224.36 -37.4 
L 224.08 -37.4 
L 223.81 -37.4 
L 223.53 -37.39 
z
" style="stroke: #dddcdc"/>
    </defs>
    <g>
     <use href="#mbaf75c7881" x="0" y="393.28" style="fill: #dddcdc; fill-opacity: 0.25; stroke: #dddcdc"/>
    </g>
   </g>
   <g id="FillBetweenPolyCollection_6">
    <defs>
     <path id="md99e8b4671" d="M 220.59 -37.39 
L 220.59 -37.39 
L 220.98 -37.39 
L 221.37 -37.39 
L 221.75 -37.39 
L 222.14 -37.39 
L 222.53 -37.39 
L 222.92 -37.39 
L 223.31 -37.39 
L 223.7 -37.39 
L 224.08 -37.39 
L 224.47 -37.39 
L 224.86 -37.39 
L 225.25 -37.39 
L 225.64 -37.39 
L 226.03 -37.39 
L 226.42 -37.39 
L 226.8 -37.39 
L 227.19 -37.39 
L 227.58 -37.39 
L 227.97 -37.39 
L 228.36 -37.39 
L 228.75 -37.39 
L 229.14 -37.39 
L 229.52 -37.39 
L 229.91 -37.39 
L 230.3 -37.39 
L 230.69 -37.39 
L 231.08 -37.39 
L 231.47 -37.39 
L 231.86 -37.39 
L 232.24 -37.39 
L 232.63 -37.39 
L 233.02 -37.39 
L 233.41 -37.39 
L 233.8 -37.39 
L 234.19 -37.39 
L 234.58 -37.39 
L 234.96 -37.39 
L 235.35 -37.39 
L 235.74 -37.39 
L 236.13 -37.39 
L 236.52 -37.39 
L 236.91 -37.39 
L 237.29 -37.39 
L 237.68 -37.39 
L 238.07 -37.39 
L 238.46 -37.39 
L 238.85 -37.39 
L 239.24 -37.39 
L 239.63 -37.39 
L 240.01 -37.39 
L 240.4 -37.39 
L 240.79 -37.39 
L 241.18 -37.39 
L 241.57 -37.39 
L 241.96 -37.39 
L 242.35 -37.39 
L 242.73 -37.39 
L 243.12 -37.39 
L 243.51 -37.39 
L 243.9 -37.39 
L 244.29 -37.39 
L 244.68 -37.39 
L 245.07 -37.39 
L 245.45 -37.39 
L 245.84 -37.39 
L 246.23 -37.39 
L 246.62 -37.39 
L 247.01 -37.39 
L 247.4 -37.39 
L 247.78 -37.39 
L 248.17 -37.39 
L 248.56 -37.39 
L 248.95 -37.39 
L 249.34 -37.39 
L 249.73 -37.39 
L 250.12 -37.39 
L 250.5 -37.39 
L 250.89 -37.39 
L 251.28 -37.39 
L 251.67 -37.39 
L 252.06 -37.39 
L 252.45 -37.39 
L 252.84 -37.39 
L 253.22 -37.39 
L 253.61 -37.39 
L 254 -37.39 
L 254.39 -37.39 
L 254.78 -37.39 
L 255.17 -37.39 
L 255.56 -37.39 
L 255.94 -37.39 
L 256.33 -37.39 
L 256.72 -37.39 
L 257.11 -37.39 
L 257.5 -37.39 
L 257.89 -37.39 
L 258.28 -37.39 
L 258.66 -37.39 
L 259.05 -37.39 
L 259.44 -37.39 
L 259.83 -37.39 
L 260.22 -37.39 
L 260.61 -37.39 
L 260.99 -37.39 
L 261.38 -37.39 
L 261.77 -37.39 
L 262.16 -37.39 
L 262.55 -37.39 
L 262.94 -37.39 
L 263.33 -37.39 
L 263.71 -37.39 
L 264.1 -37.39 
L 264.49 -37.39 
L 264.88 -37.39 
L 265.27 -37.39 
L 265.66 -37.39 
L 266.05 -37.39 
L 266.43 -37.39 
L 266.82 -37.39 
L 267.21 -37.39 
L 267.6 -37.39 
L 267.99 -37.39 
L 268.38 -37.39 
L 268.77 -37.39 
L 269.15 -37.39 
L 269.54 -37.39 
L 269.93 -37.39 
L 270.32 -37.39 
L 270.71 -37.39 
L 271.1 -37.39 
L 271.48 -37.39 
L 271.87 -37.39 
L 272.26 -37.39 
L 272.65 -37.39 
L 273.04 -37.39 
L 273.43 -37.39 
L 273.82 -37.39 
L 274.2 -37.39 
L 274.59 -37.39 
L 274.98 -37.39 
L 275.37 -37.39 
L 275.76 -37.39 
L 276.15 -37.39 
L 276.54 -37.39 
L 276.92 -37.39 
L 277.31 -37.39 
L 277.7 -37.39 
L 278.09 -37.39 
L 278.48 -37.39 
L 278.87 -37.39 
L 279.26 -37.39 
L 279.64 -37.39 
L 280.03 -37.39 
L 280.42 -37.39 
L 280.81 -37.39 
L 281.2 -37.39 
L 281.59 -37.39 
L 281.97 -37.39 
L 282.36 -37.39 
L 282.75 -37.39 
L 283.14 -37.39 
L 283.53 -37.39 
L 283.92 -37.39 
L 284.31 -37.39 
L 284.69 -37.39 
L 285.08 -37.39 
L 285.47 -37.39 
L 285.86 -37.39 
L 286.25 -37.39 
L 286.64 -37.39 
L 287.03 -37.39 
L 287.41 -37.39 
L 287.8 -37.39 
L 288.19 -37.39 
L 288.58 -37.39 
L 288.97 -37.39 
L 289.36 -37.39 
L 289.75 -37.39 
L 290.13 -37.39 
L 290.52 -37.39 
L 290.91 -37.39 
L 291.3 -37.39 
L 291.69 -37.39 
L 292.08 -37.39 
L 292.47 -37.39 
L 292.85 -37.39 
L 293.24 -37.39 
L 293.63 -37.39 
L 294.02 -37.39 
L 294.41 -37.39 
L 294.8 -37.39 
L 295.18 -37.39 
L 295.57 -37.39 
L 295.96 -37.39 
L 296.35 -37.39 
L 296.74 -37.39 
L 297.13 -37.39 
L 297.52 -37.39 
L 297.9 -37.39 
L 298.29 -37.39 
L 298.68 -37.39 
L 299.07 -37.39 
L 299.46 -37.39 
L 299.85 -37.39 
L 300.24 -37.39 
L 300.62 -37.39 
L 301.01 -37.39 
L 301.4 -37.39 
L 301.79 -37.39 
L 302.18 -37.39 
L 302.57 -37.39 
L 302.96 -37.39 
L 303.34 -37.39 
L 303.73 -37.39 
L 304.12 -37.39 
L 304.51 -37.39 
L 304.9 -37.39 
L 305.29 -37.39 
L 305.67 -37.39 
L 306.06 -37.39 
L 306.45 -37.39 
L 306.84 -37.39 
L 307.23 -37.39 
L 307.62 -37.39 
L 308.01 -37.39 
L 308.39 -37.39 
L 308.78 -37.39 
L 309.17 -37.39 
L 309.56 -37.39 
L 309.95 -37.39 
L 310.34 -37.39 
L 310.73 -37.39 
L 311.11 -37.39 
L 311.5 -37.39 
L 311.89 -37.39 
L 312.28 -37.39 
L 312.67 -37.39 
L 313.06 -37.39 
L 313.45 -37.39 
L 313.45 -37.39 
L 313.45 -37.39 
L 313.06 -37.45 
L 312.67 -37.51 
L 312.28 -37.57 
L 311.89 -37.64 
L 311.5 -37.7 
L 311.11 -37.78 
L 310.73 -37.85 
L 310.34 -37.93 
L 309.95 -38.01 
L 309.56 -38.09 
L 309.17 -38.17 
L 308.78 -38.26 
L 308.39 -38.35 
L 308.01 -38.44 
L 307.62 -38.54 
L 307.23 -38.63 
L 306.84 -38.73 
L 306.45 -38.83 
L 306.06 -38.93 
L 305.67 -39.03 
L 305.29 -39.14 
L 304.9 -39.25 
L 304.51 -39.36 
L 304.12 -39.48 
L 303.73 -39.6 
L 303.34 -39.72 
L 302.96 -39.85 
L 302.57 -39.98 
L 302.18 -40.12 
L 301.79 -40.27 
L 301.4 -40.42 
L 301.01 -40.58 
L 300.62 -40.74 
L 300.24 -40.91 
L 299.85 -41.09 
L 299.46 -41.28 
L 299.07 -41.48 
L 298.68 -41.7 
L 298.29 -41.94 
L 297.9 -42.2 
L 297.52 -42.48 
L 297.13 -42.77 
L 296.74 -43.08 
L 296.35 -43.4 
L 295.96 -43.74 
L 295.57 -44.1 
L 295.18 -44.47 
L 294.8 -44.85 
L 294.41 -45.24 
L 294.02 -45.65 
L 293.63 -46.1 
L 293.24 -46.59 
L 292.85 -47.12 
L 292.47 -47.68 
L 292.08 -48.27 
L 291.69 -48.89 
L 291.3 -49.53 
L 290.91 -50.19 
L 290.52 -50.85 
L 290.13 -51.53 
L 289.75 -52.21 
L 289.36 -52.89 
L 288.97 -53.56 
L 288.58 -54.22 
L 288.19 -54.9 
L 287.8 -55.59 
L 287.41 -56.29 
L 287.03 -57.01 
L 286.64 -57.74 
L 286.25 -58.47 
L 285.86 -59.2 
L 285.47 -59.94 
L 285.08 -60.68 
L 284.69 -61.42 
L 284.31 -62.16 
L 283.92 -62.88 
L 283.53 -63.58 
L 283.14 -64.26 
L 282.75 -64.93 
L 282.36 -65.59 
L 281.97 -66.25 
L 281.59 -66.93 
L 281.2 -67.61 
L 280.81 -68.32 
L 280.42 -69.06 
L 280.03 -69.83 
L 279.64 -70.64 
L 279.26 -71.5 
L 278.87 -72.42 
L 278.48 -73.4 
L 278.09 -74.5 
L 277.7 -75.72 
L 277.31 -77.02 
L 276.92 -78.4 
L 276.54 -79.84 
L 276.15 -81.31 
L 275.76 -82.8 
L 275.37 -84.3 
L 274.98 -85.78 
L 274.59 -87.28 
L 274.2 -88.82 
L 273.82 -90.4 
L 273.43 -92.02 
L 273.04 -93.66 
L 272.65 -95.31 
L 272.26 -96.98 
L 271.87 -98.65 
L 271.48 -100.32 
L 271.1 -101.98 
L 270.71 -103.62 
L 270.32 -105.24 
L 269.93 -106.84 
L 269.54 -108.41 
L 269.15 -109.99 
L 268.77 -111.55 
L 268.38 -113.11 
L 267.99 -114.66 
L 267.6 -116.21 
L 267.21 -117.76 
L 266.82 -119.3 
L 266.43 -120.83 
L 266.05 -122.36 
L 265.66 -123.89 
L 265.27 -125.42 
L 264.88 -126.94 
L 264.49 -128.46 
L 264.1 -129.96 
L 263.71 -131.45 
L 263.33 -132.94 
L 262.94 -134.43 
L 262.55 -135.93 
L 262.16 -137.44 
L 261.77 -138.97 
L 261.38 -140.51 
L 260.99 -142.07 
L 260.61 -143.63 
L 260.22 -145.21 
L 259.83 -146.79 
L 259.44 -148.39 
L 259.05 -150.01 
L 258.66 -151.65 
L 258.28 -153.3 
L 257.89 -154.97 
L 257.5 -156.66 
L 257.11 -158.37 
L 256.72 -160.09 
L 256.33 -161.82 
L 255.94 -163.55 
L 255.56 -165.3 
L 255.17 -167.13 
L 254.78 -169.17 
L 254.39 -171.3 
L 254 -173.38 
L 253.61 -175.27 
L 253.22 -176.84 
L 252.84 -177.94 
L 252.45 -178.67 
L 252.06 -179.35 
L 251.67 -179.99 
L 251.28 -180.57 
L 250.89 -181.09 
L 250.5 -181.53 
L 250.12 -181.88 
L 249.73 -182.15 
L 249.34 -182.31 
L 248.95 -182.35 
L 248.56 -182.27 
L 248.17 -182.07 
L 247.78 -181.75 
L 247.4 -181.33 
L 247.01 -180.82 
L 246.62 -180.22 
L 246.23 -179.55 
L 245.84 -178.82 
L 245.45 -177.9 
L 245.07 -176.42 
L 244.68 -174.46 
L 244.29 -172.17 
L 243.9 -169.5 
L 243.51 -165.88 
L 243.12 -161.64 
L 242.73 -157.22 
L 242.35 -152.96 
L 241.96 -148.55 
L 241.57 -144.04 
L 241.18 -139.6 
L 240.79 -135.41 
L 240.4 -131.52 
L 240.01 -127.8 
L 239.63 -124.08 
L 239.24 -120.23 
L 238.85 -116.08 
L 238.46 -111.45 
L 238.07 -106.37 
L 237.68 -101.11 
L 237.29 -95.93 
L 236.91 -91.07 
L 236.52 -86.57 
L 236.13 -82.03 
L 235.74 -77.57 
L 235.35 -73.33 
L 234.96 -69.48 
L 234.58 -66.16 
L 234.19 -63.51 
L 233.8 -61.41 
L 233.41 -59.64 
L 233.02 -57.99 
L 232.63 -56.26 
L 232.24 -54.33 
L 231.86 -52.3 
L 231.47 -50.33 
L 231.08 -48.57 
L 230.69 -47.12 
L 230.3 -45.81 
L 229.91 -44.63 
L 229.52 -43.65 
L 229.14 -42.9 
L 228.75 -42.34 
L 228.36 -41.86 
L 227.97 -41.46 
L 227.58 -41.1 
L 227.19 -40.78 
L 226.8 -40.48 
L 226.42 -40.21 
L 226.03 -39.96 
L 225.64 -39.73 
L 225.25 -39.51 
L 224.86 -39.31 
L 224.47 -39.1 
L 224.08 -38.9 
L 223.7 -38.69 
L 223.31 -38.48 
L 222.92 -38.27 
L 222.53 -38.08 
L 222.14 -37.9 
L 221.75 -37.75 
L 221.37 -37.61 
L 220.98 -37.5 
L 220.59 -37.39 
z
" style="stroke: #8aa2e2"/>
    </defs>
    <g>
     <use href="#md99e8b4671" x="0" y="393.28" style="fill: #80a8f8; fill-opacity: 0.25; stroke: #8aa2e2"/>
    </g>
   </g>
   <g id="matplotlib.axis_10"/>
  </g>
  <g id="line2d_37">
   <defs>
    <path id="m665ccb2333" d="M 0 3.5 
C 0.93 3.5 1.82 3.13 2.47 2.47 
C 3.13 1.82 3.5 0.93 3.5 0 
C 3.5 -0.93 3.13 -1.82 2.47 -2.47 
C 1.82 -3.13 0.93 -3.5 0 -3.5 
C -0.93 -3.5 -1.82 -3.13 -2.47 -2.47 
C -3.13 -1.82 -3.5 -0.93 -3.5 0 
C -3.5 0.93 -3.13 1.82 -2.47 2.47 
C -1.82 3.13 -0.93 3.5 0 3.5 
z
" style="stroke: #ffffff; stroke-width: 0.48"/>
   </defs>
   <g>
    <use href="#m665ccb2333" x="370.5" y="190.08" style="fill: #80a8f8; stroke: #ffffff; stroke-width: 0.48"/>
   </g>
  </g>
  <g id="line2d_38">
   <defs>
    <path id="m9a8007b3a3" d="M 0 3.5 
C 0.93 3.5 1.82 3.13 2.47 2.47 
C 3.13 1.82 3.5 0.93 3.5 0 
C 3.5 -0.93 3.13 -1.82 2.47 -2.47 
C 1.82 -3.13 0.93 -3.5 0 -3.5 
C -0.93 -3.5 -1.82 -3.13 -2.47 -2.47 
C -3.13 -1.82 -3.5 -0.93 -3.5 0 
C -3.5 0.93 -3.13 1.82 -2.47 2.47 
C -1.82 3.13 -0.93 3.5 0 3.5 
z
" style="stroke: #ffffff; stroke-width: 0.48"/>
   </defs>
   <g>
    <use href="#m9a8007b3a3" x="370.5" y="204.54" style="fill: #dddcdc; stroke: #ffffff; stroke-width: 0.48"/>
   </g>
  </g>
  <g id="line2d_39">
   <defs>
    <path id="m673c5423f7" d="M 0 3.5 
C 0.93 3.5 1.82 3.13 2.47 2.47 
C 3.13 1.82 3.5 0.93 3.5 0 
C 3.5 -0.93 3.13 -1.82 2.47 -2.47 
C 1.82 -3.13 0.93 -3.5 0 -3.5 
C -0.93 -3.5 -1.82 -3.13 -2.47 -2.47 
C -3.13 -1.82 -3.5 -0.93 -3.5 0 
C -3.5 0.93 -3.13 1.82 -2.47 2.47 
C -1.82 3.13 -0.93 3.5 0 3.5 
z
" style="stroke: #ffffff; stroke-width: 0.48"/>
   </defs>
   <g>
    <use href="#m673c5423f7" x="370.5" y="219.41" style="fill: #f08c6c; stroke: #ffffff; stroke-width: 0.48"/>
   </g>
  </g>
  <g id="text_23">
   <text style="font-size: 12.07px; font-family: 'DejaVu Sans', 'Liberation Sans', sans-serif; text-anchor: middle" x="230.92" y="16.39" transform="rotate(-0 230.92 16.39)">PEER Structural Performance Database: Rectangular-Reinforced Columns</text>
  </g>
  <g id="text_24">
   <text style="font-size: 10px; font-family: 'DejaVu Sans', 'Liberation Sans', sans-serif; text-anchor: middle" x="408.74" y="177.65" transform="rotate(-0 408.74 177.65)">Failure</text>
  </g>
  <g id="text_25">
   <text style="font-size: 10px; font-family: 'DejaVu Sans', 'Liberation Sans', sans-serif; text-anchor: start" x="388.40" y="192.69" transform="rotate(-0 388.40 192.69)">Flexure</text>
  </g>
  <g id="text_26">
   <text style="font-size: 10px; font-family: 'DejaVu Sans', 'Liberation Sans', sans-serif; text-anchor: start" x="388.40" y="207.56" transform="rotate(-0 388.40 207.56)">Shear</text>
  </g>
  <g id="text_27">
   <text style="font-size: 10px; font-family: 'DejaVu Sans', 'Liberation Sans', sans-serif; text-anchor: start" x="388.40" y="222.44" transform="rotate(-0 388.40 222.44)">Flexure-Shear</text>
  </g>
 </g>
 <defs>
  <clipPath id="p71ec16864b">
   <rect x="201.26" y="43.87" width="148.66" height="152.35"/>
  </clipPath>
  <clipPath id="p73319958ad">
   <rect x="45.21" y="203.7" width="148.49" height="152.18"/>
  </clipPath>
 </defs>
</svg>

</body></html>
